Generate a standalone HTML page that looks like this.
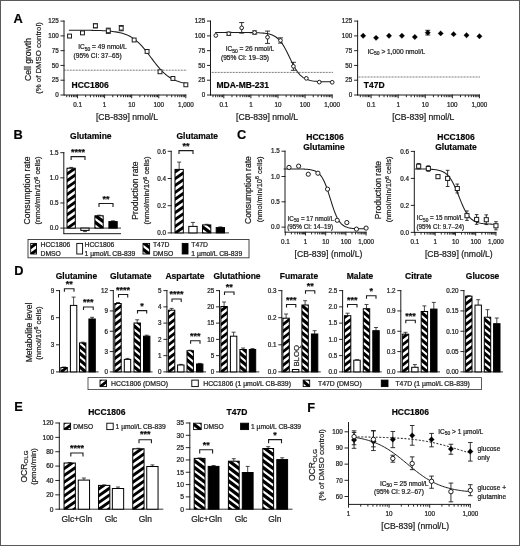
<!DOCTYPE html>
<html lang="en">
<head>
<meta charset="utf-8">
<title>Figure</title>
<style>
html,body{margin:0;padding:0;background:#fff;}
svg{display:block;font-family:"Liberation Sans",Arial,Helvetica,sans-serif;}
text{stroke:#1c1c1c;stroke-width:0.22px;}
</style>
</head>
<body>
<svg width="520" height="546" viewBox="0 0 520 546">
<defs>
<filter id="soft" x="0" y="0" width="100%" height="100%" filterUnits="userSpaceOnUse" color-interpolation-filters="sRGB"><feGaussianBlur stdDeviation="0.32"/></filter>
</defs>
<g filter="url(#soft)">
<rect x="0.5" y="0.5" width="519" height="545" fill="#fff" stroke="#5a5a5a" stroke-width="1"/>
<text x="13.6" y="23" font-size="12.8" font-weight="bold" fill="#000">A</text>
<text x="13.6" y="139.2" font-size="12.8" font-weight="bold" fill="#000">B</text>
<text x="237" y="139.2" font-size="12.8" font-weight="bold" fill="#000">C</text>
<text x="14.2" y="274.8" font-size="12.8" font-weight="bold" fill="#000">D</text>
<text x="14.2" y="411" font-size="12.8" font-weight="bold" fill="#000">E</text>
<text x="307.2" y="411.5" font-size="12.8" font-weight="bold" fill="#000">F</text>
<line x1="64" y1="20.6" x2="64" y2="95.5" stroke="#1c1c1c" stroke-width="1.0" stroke-linecap="butt"/>
<line x1="60.5" y1="95" x2="64.5" y2="95" stroke="#1c1c1c" stroke-width="0.95" stroke-linecap="butt"/>
<text x="58.7" y="97.27" font-size="6.3" text-anchor="end" fill="#1c1c1c">0</text>
<line x1="60.5" y1="80.22" x2="64.5" y2="80.22" stroke="#1c1c1c" stroke-width="0.95" stroke-linecap="butt"/>
<text x="58.7" y="82.49" font-size="6.3" text-anchor="end" fill="#1c1c1c">25</text>
<line x1="60.5" y1="65.44" x2="64.5" y2="65.44" stroke="#1c1c1c" stroke-width="0.95" stroke-linecap="butt"/>
<text x="58.7" y="67.71" font-size="6.3" text-anchor="end" fill="#1c1c1c">50</text>
<line x1="60.5" y1="50.66" x2="64.5" y2="50.66" stroke="#1c1c1c" stroke-width="0.95" stroke-linecap="butt"/>
<text x="58.7" y="52.93" font-size="6.3" text-anchor="end" fill="#1c1c1c">75</text>
<line x1="60.5" y1="35.88" x2="64.5" y2="35.88" stroke="#1c1c1c" stroke-width="0.95" stroke-linecap="butt"/>
<text x="58.7" y="38.15" font-size="6.3" text-anchor="end" fill="#1c1c1c">100</text>
<line x1="60.5" y1="21.1" x2="64.5" y2="21.1" stroke="#1c1c1c" stroke-width="0.95" stroke-linecap="butt"/>
<text x="58.7" y="23.37" font-size="6.3" text-anchor="end" fill="#1c1c1c">125</text>
<line x1="64" y1="95" x2="186.29" y2="95" stroke="#1c1c1c" stroke-width="1.0" stroke-linecap="butt"/>
<line x1="66.74" y1="95" x2="66.74" y2="97.2" stroke="#1c1c1c" stroke-width="0.95" stroke-linecap="butt"/>
<line x1="69.37" y1="95" x2="69.37" y2="97.2" stroke="#1c1c1c" stroke-width="0.95" stroke-linecap="butt"/>
<line x1="71.51" y1="95" x2="71.51" y2="97.2" stroke="#1c1c1c" stroke-width="0.95" stroke-linecap="butt"/>
<line x1="73.33" y1="95" x2="73.33" y2="97.2" stroke="#1c1c1c" stroke-width="0.95" stroke-linecap="butt"/>
<line x1="74.9" y1="95" x2="74.9" y2="97.2" stroke="#1c1c1c" stroke-width="0.95" stroke-linecap="butt"/>
<line x1="76.28" y1="95" x2="76.28" y2="97.2" stroke="#1c1c1c" stroke-width="0.95" stroke-linecap="butt"/>
<line x1="77.52" y1="94.55" x2="77.52" y2="98.3" stroke="#1c1c1c" stroke-width="0.95" stroke-linecap="butt"/>
<line x1="85.67" y1="95" x2="85.67" y2="97.2" stroke="#1c1c1c" stroke-width="0.95" stroke-linecap="butt"/>
<line x1="90.44" y1="95" x2="90.44" y2="97.2" stroke="#1c1c1c" stroke-width="0.95" stroke-linecap="butt"/>
<line x1="93.82" y1="95" x2="93.82" y2="97.2" stroke="#1c1c1c" stroke-width="0.95" stroke-linecap="butt"/>
<line x1="96.45" y1="95" x2="96.45" y2="97.2" stroke="#1c1c1c" stroke-width="0.95" stroke-linecap="butt"/>
<line x1="98.59" y1="95" x2="98.59" y2="97.2" stroke="#1c1c1c" stroke-width="0.95" stroke-linecap="butt"/>
<line x1="100.41" y1="95" x2="100.41" y2="97.2" stroke="#1c1c1c" stroke-width="0.95" stroke-linecap="butt"/>
<line x1="101.98" y1="95" x2="101.98" y2="97.2" stroke="#1c1c1c" stroke-width="0.95" stroke-linecap="butt"/>
<line x1="103.36" y1="95" x2="103.36" y2="97.2" stroke="#1c1c1c" stroke-width="0.95" stroke-linecap="butt"/>
<line x1="104.6" y1="94.55" x2="104.6" y2="98.3" stroke="#1c1c1c" stroke-width="0.95" stroke-linecap="butt"/>
<line x1="112.75" y1="95" x2="112.75" y2="97.2" stroke="#1c1c1c" stroke-width="0.95" stroke-linecap="butt"/>
<line x1="117.52" y1="95" x2="117.52" y2="97.2" stroke="#1c1c1c" stroke-width="0.95" stroke-linecap="butt"/>
<line x1="120.9" y1="95" x2="120.9" y2="97.2" stroke="#1c1c1c" stroke-width="0.95" stroke-linecap="butt"/>
<line x1="123.53" y1="95" x2="123.53" y2="97.2" stroke="#1c1c1c" stroke-width="0.95" stroke-linecap="butt"/>
<line x1="125.67" y1="95" x2="125.67" y2="97.2" stroke="#1c1c1c" stroke-width="0.95" stroke-linecap="butt"/>
<line x1="127.49" y1="95" x2="127.49" y2="97.2" stroke="#1c1c1c" stroke-width="0.95" stroke-linecap="butt"/>
<line x1="129.06" y1="95" x2="129.06" y2="97.2" stroke="#1c1c1c" stroke-width="0.95" stroke-linecap="butt"/>
<line x1="130.44" y1="95" x2="130.44" y2="97.2" stroke="#1c1c1c" stroke-width="0.95" stroke-linecap="butt"/>
<line x1="131.68" y1="94.55" x2="131.68" y2="98.3" stroke="#1c1c1c" stroke-width="0.95" stroke-linecap="butt"/>
<line x1="139.83" y1="95" x2="139.83" y2="97.2" stroke="#1c1c1c" stroke-width="0.95" stroke-linecap="butt"/>
<line x1="144.6" y1="95" x2="144.6" y2="97.2" stroke="#1c1c1c" stroke-width="0.95" stroke-linecap="butt"/>
<line x1="147.98" y1="95" x2="147.98" y2="97.2" stroke="#1c1c1c" stroke-width="0.95" stroke-linecap="butt"/>
<line x1="150.61" y1="95" x2="150.61" y2="97.2" stroke="#1c1c1c" stroke-width="0.95" stroke-linecap="butt"/>
<line x1="152.75" y1="95" x2="152.75" y2="97.2" stroke="#1c1c1c" stroke-width="0.95" stroke-linecap="butt"/>
<line x1="154.57" y1="95" x2="154.57" y2="97.2" stroke="#1c1c1c" stroke-width="0.95" stroke-linecap="butt"/>
<line x1="156.14" y1="95" x2="156.14" y2="97.2" stroke="#1c1c1c" stroke-width="0.95" stroke-linecap="butt"/>
<line x1="157.52" y1="95" x2="157.52" y2="97.2" stroke="#1c1c1c" stroke-width="0.95" stroke-linecap="butt"/>
<line x1="158.76" y1="94.55" x2="158.76" y2="98.3" stroke="#1c1c1c" stroke-width="0.95" stroke-linecap="butt"/>
<line x1="166.91" y1="95" x2="166.91" y2="97.2" stroke="#1c1c1c" stroke-width="0.95" stroke-linecap="butt"/>
<line x1="171.68" y1="95" x2="171.68" y2="97.2" stroke="#1c1c1c" stroke-width="0.95" stroke-linecap="butt"/>
<line x1="175.06" y1="95" x2="175.06" y2="97.2" stroke="#1c1c1c" stroke-width="0.95" stroke-linecap="butt"/>
<line x1="177.69" y1="95" x2="177.69" y2="97.2" stroke="#1c1c1c" stroke-width="0.95" stroke-linecap="butt"/>
<line x1="179.83" y1="95" x2="179.83" y2="97.2" stroke="#1c1c1c" stroke-width="0.95" stroke-linecap="butt"/>
<line x1="181.65" y1="95" x2="181.65" y2="97.2" stroke="#1c1c1c" stroke-width="0.95" stroke-linecap="butt"/>
<line x1="183.22" y1="95" x2="183.22" y2="97.2" stroke="#1c1c1c" stroke-width="0.95" stroke-linecap="butt"/>
<line x1="184.6" y1="95" x2="184.6" y2="97.2" stroke="#1c1c1c" stroke-width="0.95" stroke-linecap="butt"/>
<line x1="185.84" y1="94.55" x2="185.84" y2="98.3" stroke="#1c1c1c" stroke-width="0.95" stroke-linecap="butt"/>
<text x="77.52" y="107.2" font-size="6.3" text-anchor="middle" fill="#1c1c1c">0.1</text>
<text x="104.6" y="107.2" font-size="6.3" text-anchor="middle" fill="#1c1c1c">1</text>
<text x="131.68" y="107.2" font-size="6.3" text-anchor="middle" fill="#1c1c1c">10</text>
<text x="158.76" y="107.2" font-size="6.3" text-anchor="middle" fill="#1c1c1c">100</text>
<text x="185.84" y="107.2" font-size="6.3" text-anchor="middle" fill="#1c1c1c">1,000</text>
<line x1="64" y1="70.2" x2="186.5" y2="70.2" stroke="#222" stroke-width="0.8" stroke-linecap="butt" stroke-dasharray="0.75 0.75"/>
<path d="M68.85 30.21L70.32 30.22L71.78 30.22L73.24 30.22L74.7 30.23L76.17 30.23L77.63 30.24L79.09 30.24L80.55 30.25L82.02 30.26L83.48 30.27L84.94 30.28L86.4 30.29L87.86 30.31L89.33 30.33L90.79 30.35L92.25 30.37L93.71 30.4L95.18 30.43L96.64 30.46L98.1 30.5L99.56 30.55L101.03 30.6L102.49 30.67L103.95 30.74L105.41 30.82L106.87 30.91L108.34 31.02L109.8 31.15L111.26 31.29L112.72 31.46L114.19 31.65L115.65 31.86L117.11 32.11L118.57 32.39L120.04 32.71L121.5 33.08L122.96 33.5L124.42 33.97L125.88 34.51L127.35 35.11L128.81 35.79L130.27 36.55L131.73 37.4L133.2 38.34L134.66 39.38L136.12 40.53L137.58 41.78L139.05 43.14L140.51 44.61L141.97 46.18L143.43 47.85L144.9 49.6L146.36 51.43L147.82 53.32L149.28 55.25L150.74 57.21L152.21 59.17L153.67 61.12L155.13 63.03L156.59 64.89L158.06 66.68L159.52 68.38L160.98 70L162.44 71.51L163.91 72.92L165.37 74.22L166.83 75.41L168.29 76.5L169.75 77.49L171.22 78.38L172.68 79.18L174.14 79.89L175.6 80.53L177.07 81.09L178.53 81.59L179.99 82.03L181.45 82.42L182.92 82.76L184.38 83.06L185.84 83.33" fill="none" stroke="#1c1c1c" stroke-width="1.05" stroke-linejoin="round"/>
<rect x="67.61" y="34.12" width="3.9" height="3.9" fill="#fff" stroke="#1c1c1c" stroke-width="1.0"/>
<rect x="80.53" y="30.95" width="3.9" height="3.9" fill="#fff" stroke="#1c1c1c" stroke-width="1.0"/>
<line x1="95.4" y1="23.74" x2="95.4" y2="27.85" stroke="#1c1c1c" stroke-width="0.9" stroke-linecap="butt"/>
<line x1="92.9" y1="23.74" x2="97.9" y2="23.74" stroke="#1c1c1c" stroke-width="0.9" stroke-linecap="butt"/>
<line x1="92.9" y1="27.85" x2="97.9" y2="27.85" stroke="#1c1c1c" stroke-width="0.9" stroke-linecap="butt"/>
<rect x="93.45" y="23.84" width="3.9" height="3.9" fill="#fff" stroke="#1c1c1c" stroke-width="1.0"/>
<line x1="108.32" y1="28.14" x2="108.32" y2="33.42" stroke="#1c1c1c" stroke-width="0.9" stroke-linecap="butt"/>
<line x1="105.82" y1="28.14" x2="110.82" y2="28.14" stroke="#1c1c1c" stroke-width="0.9" stroke-linecap="butt"/>
<line x1="105.82" y1="33.42" x2="110.82" y2="33.42" stroke="#1c1c1c" stroke-width="0.9" stroke-linecap="butt"/>
<rect x="106.37" y="28.83" width="3.9" height="3.9" fill="#fff" stroke="#1c1c1c" stroke-width="1.0"/>
<line x1="121.24" y1="25.5" x2="121.24" y2="30.78" stroke="#1c1c1c" stroke-width="0.9" stroke-linecap="butt"/>
<line x1="118.74" y1="25.5" x2="123.74" y2="25.5" stroke="#1c1c1c" stroke-width="0.9" stroke-linecap="butt"/>
<line x1="118.74" y1="30.78" x2="123.74" y2="30.78" stroke="#1c1c1c" stroke-width="0.9" stroke-linecap="butt"/>
<rect x="119.29" y="26.19" width="3.9" height="3.9" fill="#fff" stroke="#1c1c1c" stroke-width="1.0"/>
<rect x="132.21" y="38.05" width="3.9" height="3.9" fill="#fff" stroke="#1c1c1c" stroke-width="1.0"/>
<rect x="145.13" y="49.5" width="3.9" height="3.9" fill="#fff" stroke="#1c1c1c" stroke-width="1.0"/>
<rect x="158.05" y="69.82" width="3.9" height="3.9" fill="#fff" stroke="#1c1c1c" stroke-width="1.0"/>
<rect x="170.97" y="76.51" width="3.9" height="3.9" fill="#fff" stroke="#1c1c1c" stroke-width="1.0"/>
<rect x="183.89" y="82.85" width="3.9" height="3.9" fill="#fff" stroke="#1c1c1c" stroke-width="1.0"/>
<text x="78.2" y="49.4" font-size="6.6" fill="#1c1c1c">IC<tspan font-size="75%" dy="1.2">50</tspan><tspan dy="-1.2"> = 49 nmol/L</tspan></text>
<text x="73.6" y="58.2" font-size="6.6" fill="#1c1c1c">(95% CI: 37–65)</text>
<text x="71.5" y="87.5" font-size="8.5" font-weight="bold" fill="#000">HCC1806</text>
<text x="127" y="119.6" font-size="8.6" text-anchor="middle" fill="#1c1c1c">[CB-839] nmol/L</text>
<text x="31.3" y="59.5" font-size="8.6" text-anchor="middle" transform="rotate(-90 31.3 59.5)" fill="#1c1c1c">Cell growth</text>
<text x="40.6" y="58" font-size="7.75" text-anchor="middle" transform="rotate(-90 40.6 58)" fill="#1c1c1c">(% of DMSO control)</text>
<line x1="210.5" y1="20.6" x2="210.5" y2="95.5" stroke="#1c1c1c" stroke-width="1.0" stroke-linecap="butt"/>
<line x1="207" y1="95" x2="211" y2="95" stroke="#1c1c1c" stroke-width="0.95" stroke-linecap="butt"/>
<text x="205.2" y="97.27" font-size="6.3" text-anchor="end" fill="#1c1c1c">0</text>
<line x1="207" y1="80.22" x2="211" y2="80.22" stroke="#1c1c1c" stroke-width="0.95" stroke-linecap="butt"/>
<text x="205.2" y="82.49" font-size="6.3" text-anchor="end" fill="#1c1c1c">25</text>
<line x1="207" y1="65.44" x2="211" y2="65.44" stroke="#1c1c1c" stroke-width="0.95" stroke-linecap="butt"/>
<text x="205.2" y="67.71" font-size="6.3" text-anchor="end" fill="#1c1c1c">50</text>
<line x1="207" y1="50.66" x2="211" y2="50.66" stroke="#1c1c1c" stroke-width="0.95" stroke-linecap="butt"/>
<text x="205.2" y="52.93" font-size="6.3" text-anchor="end" fill="#1c1c1c">75</text>
<line x1="207" y1="35.88" x2="211" y2="35.88" stroke="#1c1c1c" stroke-width="0.95" stroke-linecap="butt"/>
<text x="205.2" y="38.15" font-size="6.3" text-anchor="end" fill="#1c1c1c">100</text>
<line x1="207" y1="21.1" x2="211" y2="21.1" stroke="#1c1c1c" stroke-width="0.95" stroke-linecap="butt"/>
<text x="205.2" y="23.37" font-size="6.3" text-anchor="end" fill="#1c1c1c">125</text>
<line x1="210.5" y1="95" x2="332.65" y2="95" stroke="#1c1c1c" stroke-width="1.0" stroke-linecap="butt"/>
<line x1="213.02" y1="95" x2="213.02" y2="97.2" stroke="#1c1c1c" stroke-width="0.95" stroke-linecap="butt"/>
<line x1="215.64" y1="95" x2="215.64" y2="97.2" stroke="#1c1c1c" stroke-width="0.95" stroke-linecap="butt"/>
<line x1="217.79" y1="95" x2="217.79" y2="97.2" stroke="#1c1c1c" stroke-width="0.95" stroke-linecap="butt"/>
<line x1="219.6" y1="95" x2="219.6" y2="97.2" stroke="#1c1c1c" stroke-width="0.95" stroke-linecap="butt"/>
<line x1="221.17" y1="95" x2="221.17" y2="97.2" stroke="#1c1c1c" stroke-width="0.95" stroke-linecap="butt"/>
<line x1="222.56" y1="95" x2="222.56" y2="97.2" stroke="#1c1c1c" stroke-width="0.95" stroke-linecap="butt"/>
<line x1="223.8" y1="94.55" x2="223.8" y2="98.3" stroke="#1c1c1c" stroke-width="0.95" stroke-linecap="butt"/>
<line x1="231.96" y1="95" x2="231.96" y2="97.2" stroke="#1c1c1c" stroke-width="0.95" stroke-linecap="butt"/>
<line x1="236.73" y1="95" x2="236.73" y2="97.2" stroke="#1c1c1c" stroke-width="0.95" stroke-linecap="butt"/>
<line x1="240.12" y1="95" x2="240.12" y2="97.2" stroke="#1c1c1c" stroke-width="0.95" stroke-linecap="butt"/>
<line x1="242.74" y1="95" x2="242.74" y2="97.2" stroke="#1c1c1c" stroke-width="0.95" stroke-linecap="butt"/>
<line x1="244.89" y1="95" x2="244.89" y2="97.2" stroke="#1c1c1c" stroke-width="0.95" stroke-linecap="butt"/>
<line x1="246.7" y1="95" x2="246.7" y2="97.2" stroke="#1c1c1c" stroke-width="0.95" stroke-linecap="butt"/>
<line x1="248.27" y1="95" x2="248.27" y2="97.2" stroke="#1c1c1c" stroke-width="0.95" stroke-linecap="butt"/>
<line x1="249.66" y1="95" x2="249.66" y2="97.2" stroke="#1c1c1c" stroke-width="0.95" stroke-linecap="butt"/>
<line x1="250.9" y1="94.55" x2="250.9" y2="98.3" stroke="#1c1c1c" stroke-width="0.95" stroke-linecap="butt"/>
<line x1="259.06" y1="95" x2="259.06" y2="97.2" stroke="#1c1c1c" stroke-width="0.95" stroke-linecap="butt"/>
<line x1="263.83" y1="95" x2="263.83" y2="97.2" stroke="#1c1c1c" stroke-width="0.95" stroke-linecap="butt"/>
<line x1="267.22" y1="95" x2="267.22" y2="97.2" stroke="#1c1c1c" stroke-width="0.95" stroke-linecap="butt"/>
<line x1="269.84" y1="95" x2="269.84" y2="97.2" stroke="#1c1c1c" stroke-width="0.95" stroke-linecap="butt"/>
<line x1="271.99" y1="95" x2="271.99" y2="97.2" stroke="#1c1c1c" stroke-width="0.95" stroke-linecap="butt"/>
<line x1="273.8" y1="95" x2="273.8" y2="97.2" stroke="#1c1c1c" stroke-width="0.95" stroke-linecap="butt"/>
<line x1="275.37" y1="95" x2="275.37" y2="97.2" stroke="#1c1c1c" stroke-width="0.95" stroke-linecap="butt"/>
<line x1="276.76" y1="95" x2="276.76" y2="97.2" stroke="#1c1c1c" stroke-width="0.95" stroke-linecap="butt"/>
<line x1="278" y1="94.55" x2="278" y2="98.3" stroke="#1c1c1c" stroke-width="0.95" stroke-linecap="butt"/>
<line x1="286.16" y1="95" x2="286.16" y2="97.2" stroke="#1c1c1c" stroke-width="0.95" stroke-linecap="butt"/>
<line x1="290.93" y1="95" x2="290.93" y2="97.2" stroke="#1c1c1c" stroke-width="0.95" stroke-linecap="butt"/>
<line x1="294.32" y1="95" x2="294.32" y2="97.2" stroke="#1c1c1c" stroke-width="0.95" stroke-linecap="butt"/>
<line x1="296.94" y1="95" x2="296.94" y2="97.2" stroke="#1c1c1c" stroke-width="0.95" stroke-linecap="butt"/>
<line x1="299.09" y1="95" x2="299.09" y2="97.2" stroke="#1c1c1c" stroke-width="0.95" stroke-linecap="butt"/>
<line x1="300.9" y1="95" x2="300.9" y2="97.2" stroke="#1c1c1c" stroke-width="0.95" stroke-linecap="butt"/>
<line x1="302.47" y1="95" x2="302.47" y2="97.2" stroke="#1c1c1c" stroke-width="0.95" stroke-linecap="butt"/>
<line x1="303.86" y1="95" x2="303.86" y2="97.2" stroke="#1c1c1c" stroke-width="0.95" stroke-linecap="butt"/>
<line x1="305.1" y1="94.55" x2="305.1" y2="98.3" stroke="#1c1c1c" stroke-width="0.95" stroke-linecap="butt"/>
<line x1="313.26" y1="95" x2="313.26" y2="97.2" stroke="#1c1c1c" stroke-width="0.95" stroke-linecap="butt"/>
<line x1="318.03" y1="95" x2="318.03" y2="97.2" stroke="#1c1c1c" stroke-width="0.95" stroke-linecap="butt"/>
<line x1="321.42" y1="95" x2="321.42" y2="97.2" stroke="#1c1c1c" stroke-width="0.95" stroke-linecap="butt"/>
<line x1="324.04" y1="95" x2="324.04" y2="97.2" stroke="#1c1c1c" stroke-width="0.95" stroke-linecap="butt"/>
<line x1="326.19" y1="95" x2="326.19" y2="97.2" stroke="#1c1c1c" stroke-width="0.95" stroke-linecap="butt"/>
<line x1="328" y1="95" x2="328" y2="97.2" stroke="#1c1c1c" stroke-width="0.95" stroke-linecap="butt"/>
<line x1="329.57" y1="95" x2="329.57" y2="97.2" stroke="#1c1c1c" stroke-width="0.95" stroke-linecap="butt"/>
<line x1="330.96" y1="95" x2="330.96" y2="97.2" stroke="#1c1c1c" stroke-width="0.95" stroke-linecap="butt"/>
<line x1="332.2" y1="94.55" x2="332.2" y2="98.3" stroke="#1c1c1c" stroke-width="0.95" stroke-linecap="butt"/>
<text x="223.8" y="107.2" font-size="6.3" text-anchor="middle" fill="#1c1c1c">0.1</text>
<text x="250.9" y="107.2" font-size="6.3" text-anchor="middle" fill="#1c1c1c">1</text>
<text x="278" y="107.2" font-size="6.3" text-anchor="middle" fill="#1c1c1c">10</text>
<text x="305.1" y="107.2" font-size="6.3" text-anchor="middle" fill="#1c1c1c">100</text>
<text x="332.2" y="107.2" font-size="6.3" text-anchor="middle" fill="#1c1c1c">1,000</text>
<line x1="210.5" y1="72.4" x2="333" y2="72.4" stroke="#222" stroke-width="0.8" stroke-linecap="butt" stroke-dasharray="0.75 0.75"/>
<path d="M215.13 32.54L216.59 32.54L218.05 32.54L219.52 32.54L220.98 32.54L222.44 32.54L223.91 32.54L225.37 32.54L226.84 32.55L228.3 32.55L229.76 32.55L231.23 32.55L232.69 32.55L234.15 32.55L235.62 32.55L237.08 32.55L238.54 32.55L240.01 32.56L241.47 32.56L242.93 32.56L244.4 32.57L245.86 32.57L247.32 32.58L248.79 32.59L250.25 32.61L251.71 32.62L253.18 32.65L254.64 32.68L256.1 32.71L257.57 32.76L259.03 32.82L260.49 32.9L261.96 33L263.42 33.13L264.88 33.29L266.35 33.49L267.81 33.76L269.27 34.09L270.74 34.51L272.2 35.03L273.66 35.69L275.13 36.51L276.59 37.51L278.05 38.74L279.52 40.22L280.98 41.97L282.44 44.02L283.91 46.35L285.37 48.95L286.83 51.77L288.3 54.76L289.76 57.82L291.22 60.86L292.69 63.79L294.15 66.53L295.62 69.03L297.08 71.25L298.54 73.17L300.01 74.81L301.47 76.19L302.93 77.32L304.4 78.25L305.86 79L307.32 79.6L308.79 80.08L310.25 80.47L311.71 80.77L313.18 81.01L314.64 81.19L316.1 81.34L317.57 81.46L319.03 81.55L320.49 81.62L321.96 81.67L323.42 81.72L324.88 81.75L326.35 81.78L327.81 81.8L329.27 81.81L330.74 81.82L332.2 81.83" fill="none" stroke="#1c1c1c" stroke-width="1.05" stroke-linejoin="round"/>
<circle cx="215.83" cy="35.48" r="1.85" fill="#fff" stroke="#1c1c1c" stroke-width="1.0"/>
<line x1="228.76" y1="32.07" x2="228.76" y2="35.36" stroke="#1c1c1c" stroke-width="0.9" stroke-linecap="butt"/>
<line x1="226.26" y1="32.07" x2="231.26" y2="32.07" stroke="#1c1c1c" stroke-width="0.9" stroke-linecap="butt"/>
<line x1="226.26" y1="35.36" x2="231.26" y2="35.36" stroke="#1c1c1c" stroke-width="0.9" stroke-linecap="butt"/>
<circle cx="228.76" cy="33.72" r="1.85" fill="#fff" stroke="#1c1c1c" stroke-width="1.0"/>
<line x1="241.69" y1="22.56" x2="241.69" y2="33.13" stroke="#1c1c1c" stroke-width="0.9" stroke-linecap="butt"/>
<line x1="239.19" y1="22.56" x2="244.19" y2="22.56" stroke="#1c1c1c" stroke-width="0.9" stroke-linecap="butt"/>
<line x1="239.19" y1="33.13" x2="244.19" y2="33.13" stroke="#1c1c1c" stroke-width="0.9" stroke-linecap="butt"/>
<circle cx="241.69" cy="27.85" r="1.85" fill="#fff" stroke="#1c1c1c" stroke-width="1.0"/>
<line x1="254.62" y1="30.9" x2="254.62" y2="34.19" stroke="#1c1c1c" stroke-width="0.9" stroke-linecap="butt"/>
<line x1="252.12" y1="30.9" x2="257.12" y2="30.9" stroke="#1c1c1c" stroke-width="0.9" stroke-linecap="butt"/>
<line x1="252.12" y1="34.19" x2="257.12" y2="34.19" stroke="#1c1c1c" stroke-width="0.9" stroke-linecap="butt"/>
<circle cx="254.62" cy="32.54" r="1.85" fill="#fff" stroke="#1c1c1c" stroke-width="1.0"/>
<line x1="267.55" y1="31.08" x2="267.55" y2="43.41" stroke="#1c1c1c" stroke-width="0.9" stroke-linecap="butt"/>
<line x1="265.05" y1="31.08" x2="270.05" y2="31.08" stroke="#1c1c1c" stroke-width="0.9" stroke-linecap="butt"/>
<line x1="265.05" y1="43.41" x2="270.05" y2="43.41" stroke="#1c1c1c" stroke-width="0.9" stroke-linecap="butt"/>
<circle cx="267.55" cy="37.24" r="1.85" fill="#fff" stroke="#1c1c1c" stroke-width="1.0"/>
<line x1="280.48" y1="37.83" x2="280.48" y2="43.11" stroke="#1c1c1c" stroke-width="0.9" stroke-linecap="butt"/>
<line x1="277.98" y1="37.83" x2="282.98" y2="37.83" stroke="#1c1c1c" stroke-width="0.9" stroke-linecap="butt"/>
<line x1="277.98" y1="43.11" x2="282.98" y2="43.11" stroke="#1c1c1c" stroke-width="0.9" stroke-linecap="butt"/>
<circle cx="280.48" cy="40.47" r="1.85" fill="#fff" stroke="#1c1c1c" stroke-width="1.0"/>
<line x1="293.41" y1="62.32" x2="293.41" y2="70.3" stroke="#1c1c1c" stroke-width="0.9" stroke-linecap="butt"/>
<line x1="290.91" y1="62.32" x2="295.91" y2="62.32" stroke="#1c1c1c" stroke-width="0.9" stroke-linecap="butt"/>
<line x1="290.91" y1="70.3" x2="295.91" y2="70.3" stroke="#1c1c1c" stroke-width="0.9" stroke-linecap="butt"/>
<circle cx="293.41" cy="66.31" r="1.85" fill="#fff" stroke="#1c1c1c" stroke-width="1.0"/>
<circle cx="306.34" cy="78.35" r="1.85" fill="#fff" stroke="#1c1c1c" stroke-width="1.0"/>
<circle cx="319.27" cy="82.1" r="1.85" fill="#fff" stroke="#1c1c1c" stroke-width="1.0"/>
<circle cx="332.2" cy="82.28" r="1.85" fill="#fff" stroke="#1c1c1c" stroke-width="1.0"/>
<text x="225.7" y="51.4" font-size="6.6" fill="#1c1c1c">IC<tspan font-size="75%" dy="1.2">50</tspan><tspan dy="-1.2"> = 26 nmol/L</tspan></text>
<text x="221" y="60.2" font-size="6.6" fill="#1c1c1c">(95% CI: 19–35)</text>
<text x="216.5" y="87.6" font-size="8.5" font-weight="bold" fill="#000">MDA-MB-231</text>
<text x="267.1" y="119.6" font-size="8.6" text-anchor="middle" fill="#1c1c1c">[CB-839] nmol/L</text>
<line x1="357.6" y1="20.6" x2="357.6" y2="95.5" stroke="#1c1c1c" stroke-width="1.0" stroke-linecap="butt"/>
<line x1="354.1" y1="95" x2="358.1" y2="95" stroke="#1c1c1c" stroke-width="0.95" stroke-linecap="butt"/>
<text x="352.3" y="97.27" font-size="6.3" text-anchor="end" fill="#1c1c1c">0</text>
<line x1="354.1" y1="80.22" x2="358.1" y2="80.22" stroke="#1c1c1c" stroke-width="0.95" stroke-linecap="butt"/>
<text x="352.3" y="82.49" font-size="6.3" text-anchor="end" fill="#1c1c1c">25</text>
<line x1="354.1" y1="65.44" x2="358.1" y2="65.44" stroke="#1c1c1c" stroke-width="0.95" stroke-linecap="butt"/>
<text x="352.3" y="67.71" font-size="6.3" text-anchor="end" fill="#1c1c1c">50</text>
<line x1="354.1" y1="50.66" x2="358.1" y2="50.66" stroke="#1c1c1c" stroke-width="0.95" stroke-linecap="butt"/>
<text x="352.3" y="52.93" font-size="6.3" text-anchor="end" fill="#1c1c1c">75</text>
<line x1="354.1" y1="35.88" x2="358.1" y2="35.88" stroke="#1c1c1c" stroke-width="0.95" stroke-linecap="butt"/>
<text x="352.3" y="38.15" font-size="6.3" text-anchor="end" fill="#1c1c1c">100</text>
<line x1="354.1" y1="21.1" x2="358.1" y2="21.1" stroke="#1c1c1c" stroke-width="0.95" stroke-linecap="butt"/>
<text x="352.3" y="23.37" font-size="6.3" text-anchor="end" fill="#1c1c1c">125</text>
<line x1="357.6" y1="95" x2="479.89" y2="95" stroke="#1c1c1c" stroke-width="1.0" stroke-linecap="butt"/>
<line x1="360.34" y1="95" x2="360.34" y2="97.2" stroke="#1c1c1c" stroke-width="0.95" stroke-linecap="butt"/>
<line x1="362.97" y1="95" x2="362.97" y2="97.2" stroke="#1c1c1c" stroke-width="0.95" stroke-linecap="butt"/>
<line x1="365.11" y1="95" x2="365.11" y2="97.2" stroke="#1c1c1c" stroke-width="0.95" stroke-linecap="butt"/>
<line x1="366.93" y1="95" x2="366.93" y2="97.2" stroke="#1c1c1c" stroke-width="0.95" stroke-linecap="butt"/>
<line x1="368.5" y1="95" x2="368.5" y2="97.2" stroke="#1c1c1c" stroke-width="0.95" stroke-linecap="butt"/>
<line x1="369.88" y1="95" x2="369.88" y2="97.2" stroke="#1c1c1c" stroke-width="0.95" stroke-linecap="butt"/>
<line x1="371.12" y1="94.55" x2="371.12" y2="98.3" stroke="#1c1c1c" stroke-width="0.95" stroke-linecap="butt"/>
<line x1="379.27" y1="95" x2="379.27" y2="97.2" stroke="#1c1c1c" stroke-width="0.95" stroke-linecap="butt"/>
<line x1="384.04" y1="95" x2="384.04" y2="97.2" stroke="#1c1c1c" stroke-width="0.95" stroke-linecap="butt"/>
<line x1="387.42" y1="95" x2="387.42" y2="97.2" stroke="#1c1c1c" stroke-width="0.95" stroke-linecap="butt"/>
<line x1="390.05" y1="95" x2="390.05" y2="97.2" stroke="#1c1c1c" stroke-width="0.95" stroke-linecap="butt"/>
<line x1="392.19" y1="95" x2="392.19" y2="97.2" stroke="#1c1c1c" stroke-width="0.95" stroke-linecap="butt"/>
<line x1="394.01" y1="95" x2="394.01" y2="97.2" stroke="#1c1c1c" stroke-width="0.95" stroke-linecap="butt"/>
<line x1="395.58" y1="95" x2="395.58" y2="97.2" stroke="#1c1c1c" stroke-width="0.95" stroke-linecap="butt"/>
<line x1="396.96" y1="95" x2="396.96" y2="97.2" stroke="#1c1c1c" stroke-width="0.95" stroke-linecap="butt"/>
<line x1="398.2" y1="94.55" x2="398.2" y2="98.3" stroke="#1c1c1c" stroke-width="0.95" stroke-linecap="butt"/>
<line x1="406.35" y1="95" x2="406.35" y2="97.2" stroke="#1c1c1c" stroke-width="0.95" stroke-linecap="butt"/>
<line x1="411.12" y1="95" x2="411.12" y2="97.2" stroke="#1c1c1c" stroke-width="0.95" stroke-linecap="butt"/>
<line x1="414.5" y1="95" x2="414.5" y2="97.2" stroke="#1c1c1c" stroke-width="0.95" stroke-linecap="butt"/>
<line x1="417.13" y1="95" x2="417.13" y2="97.2" stroke="#1c1c1c" stroke-width="0.95" stroke-linecap="butt"/>
<line x1="419.27" y1="95" x2="419.27" y2="97.2" stroke="#1c1c1c" stroke-width="0.95" stroke-linecap="butt"/>
<line x1="421.09" y1="95" x2="421.09" y2="97.2" stroke="#1c1c1c" stroke-width="0.95" stroke-linecap="butt"/>
<line x1="422.66" y1="95" x2="422.66" y2="97.2" stroke="#1c1c1c" stroke-width="0.95" stroke-linecap="butt"/>
<line x1="424.04" y1="95" x2="424.04" y2="97.2" stroke="#1c1c1c" stroke-width="0.95" stroke-linecap="butt"/>
<line x1="425.28" y1="94.55" x2="425.28" y2="98.3" stroke="#1c1c1c" stroke-width="0.95" stroke-linecap="butt"/>
<line x1="433.43" y1="95" x2="433.43" y2="97.2" stroke="#1c1c1c" stroke-width="0.95" stroke-linecap="butt"/>
<line x1="438.2" y1="95" x2="438.2" y2="97.2" stroke="#1c1c1c" stroke-width="0.95" stroke-linecap="butt"/>
<line x1="441.58" y1="95" x2="441.58" y2="97.2" stroke="#1c1c1c" stroke-width="0.95" stroke-linecap="butt"/>
<line x1="444.21" y1="95" x2="444.21" y2="97.2" stroke="#1c1c1c" stroke-width="0.95" stroke-linecap="butt"/>
<line x1="446.35" y1="95" x2="446.35" y2="97.2" stroke="#1c1c1c" stroke-width="0.95" stroke-linecap="butt"/>
<line x1="448.17" y1="95" x2="448.17" y2="97.2" stroke="#1c1c1c" stroke-width="0.95" stroke-linecap="butt"/>
<line x1="449.74" y1="95" x2="449.74" y2="97.2" stroke="#1c1c1c" stroke-width="0.95" stroke-linecap="butt"/>
<line x1="451.12" y1="95" x2="451.12" y2="97.2" stroke="#1c1c1c" stroke-width="0.95" stroke-linecap="butt"/>
<line x1="452.36" y1="94.55" x2="452.36" y2="98.3" stroke="#1c1c1c" stroke-width="0.95" stroke-linecap="butt"/>
<line x1="460.51" y1="95" x2="460.51" y2="97.2" stroke="#1c1c1c" stroke-width="0.95" stroke-linecap="butt"/>
<line x1="465.28" y1="95" x2="465.28" y2="97.2" stroke="#1c1c1c" stroke-width="0.95" stroke-linecap="butt"/>
<line x1="468.66" y1="95" x2="468.66" y2="97.2" stroke="#1c1c1c" stroke-width="0.95" stroke-linecap="butt"/>
<line x1="471.29" y1="95" x2="471.29" y2="97.2" stroke="#1c1c1c" stroke-width="0.95" stroke-linecap="butt"/>
<line x1="473.43" y1="95" x2="473.43" y2="97.2" stroke="#1c1c1c" stroke-width="0.95" stroke-linecap="butt"/>
<line x1="475.25" y1="95" x2="475.25" y2="97.2" stroke="#1c1c1c" stroke-width="0.95" stroke-linecap="butt"/>
<line x1="476.82" y1="95" x2="476.82" y2="97.2" stroke="#1c1c1c" stroke-width="0.95" stroke-linecap="butt"/>
<line x1="478.2" y1="95" x2="478.2" y2="97.2" stroke="#1c1c1c" stroke-width="0.95" stroke-linecap="butt"/>
<line x1="479.44" y1="94.55" x2="479.44" y2="98.3" stroke="#1c1c1c" stroke-width="0.95" stroke-linecap="butt"/>
<text x="371.12" y="107.2" font-size="6.3" text-anchor="middle" fill="#1c1c1c">0.1</text>
<text x="398.2" y="107.2" font-size="6.3" text-anchor="middle" fill="#1c1c1c">1</text>
<text x="425.28" y="107.2" font-size="6.3" text-anchor="middle" fill="#1c1c1c">10</text>
<text x="452.36" y="107.2" font-size="6.3" text-anchor="middle" fill="#1c1c1c">100</text>
<text x="479.44" y="107.2" font-size="6.3" text-anchor="middle" fill="#1c1c1c">1,000</text>
<line x1="357.6" y1="77" x2="480" y2="77" stroke="#222" stroke-width="0.8" stroke-linecap="butt" stroke-dasharray="0.75 0.75"/>
<path d="M363.16 33.07L365.86 35.77L363.16 38.47L360.46 35.77Z" fill="#000" stroke="#000" stroke-width="0.3"/>
<path d="M376.08 35.13L378.78 37.83L376.08 40.53L373.38 37.83Z" fill="#000" stroke="#000" stroke-width="0.3"/>
<path d="M389 33.07L391.7 35.77L389 38.47L386.3 35.77Z" fill="#000" stroke="#000" stroke-width="0.3"/>
<path d="M401.92 33.07L404.62 35.77L401.92 38.47L399.22 35.77Z" fill="#000" stroke="#000" stroke-width="0.3"/>
<path d="M414.84 34.25L417.54 36.95L414.84 39.65L412.14 36.95Z" fill="#000" stroke="#000" stroke-width="0.3"/>
<line x1="427.76" y1="30.31" x2="427.76" y2="35.01" stroke="#1c1c1c" stroke-width="0.9" stroke-linecap="butt"/>
<line x1="425.26" y1="30.31" x2="430.26" y2="30.31" stroke="#1c1c1c" stroke-width="0.9" stroke-linecap="butt"/>
<line x1="425.26" y1="35.01" x2="430.26" y2="35.01" stroke="#1c1c1c" stroke-width="0.9" stroke-linecap="butt"/>
<path d="M427.76 29.96L430.46 32.66L427.76 35.36L425.06 32.66Z" fill="#000" stroke="#000" stroke-width="0.3"/>
<path d="M440.68 30.72L443.38 33.42L440.68 36.12L437.98 33.42Z" fill="#000" stroke="#000" stroke-width="0.3"/>
<path d="M453.6 31.43L456.3 34.13L453.6 36.83L450.9 34.13Z" fill="#000" stroke="#000" stroke-width="0.3"/>
<path d="M466.52 32.49L469.22 35.19L466.52 37.89L463.82 35.19Z" fill="#000" stroke="#000" stroke-width="0.3"/>
<path d="M479.44 33.54L482.14 36.24L479.44 38.94L476.74 36.24Z" fill="#000" stroke="#000" stroke-width="0.3"/>
<text x="367.5" y="53.9" font-size="6.6" fill="#1c1c1c">IC<tspan font-size="75%" dy="1.2">50</tspan><tspan dy="-1.2"> &gt; 1,000 nmol/L</tspan></text>
<text x="363.8" y="87.5" font-size="8.5" font-weight="bold" fill="#000">T47D</text>
<text x="423.3" y="119.6" font-size="8.6" text-anchor="middle" fill="#1c1c1c">[CB-839] nmol/L</text>
<line x1="63.8" y1="152.2" x2="63.8" y2="234.2" stroke="#1c1c1c" stroke-width="1.0" stroke-linecap="butt"/>
<line x1="60.3" y1="228.1" x2="64.3" y2="228.1" stroke="#1c1c1c" stroke-width="0.95" stroke-linecap="butt"/>
<text x="58.5" y="230.37" font-size="6.3" text-anchor="end" fill="#1c1c1c">0.0</text>
<line x1="60.3" y1="202.97" x2="64.3" y2="202.97" stroke="#1c1c1c" stroke-width="0.95" stroke-linecap="butt"/>
<text x="58.5" y="205.23" font-size="6.3" text-anchor="end" fill="#1c1c1c">0.5</text>
<line x1="60.3" y1="177.83" x2="64.3" y2="177.83" stroke="#1c1c1c" stroke-width="0.95" stroke-linecap="butt"/>
<text x="58.5" y="180.1" font-size="6.3" text-anchor="end" fill="#1c1c1c">1.0</text>
<line x1="60.3" y1="152.7" x2="64.3" y2="152.7" stroke="#1c1c1c" stroke-width="0.95" stroke-linecap="butt"/>
<text x="58.5" y="154.97" font-size="6.3" text-anchor="end" fill="#1c1c1c">1.5</text>
<line x1="63.8" y1="233.7" x2="121" y2="233.7" stroke="#1c1c1c" stroke-width="1.0" stroke-linecap="butt"/>
<line x1="63.8" y1="228.1" x2="121" y2="228.1" stroke="#1c1c1c" stroke-width="0.9" stroke-linecap="butt"/>
<line x1="71.15" y1="167.4" x2="71.15" y2="168.2" stroke="#1c1c1c" stroke-width="0.8" stroke-linecap="butt"/>
<line x1="69.15" y1="167.4" x2="73.15" y2="167.4" stroke="#1c1c1c" stroke-width="0.8" stroke-linecap="butt"/>
<clipPath id="c1"><rect x="67" y="168.2" width="8.3" height="59.9"/></clipPath>
<rect x="67" y="168.2" width="8.3" height="59.9" fill="#fff"/>
<path d="M66 242.7L76.3 235.49M66 235.9L76.3 228.69M66 229.1L76.3 221.89M66 222.3L76.3 215.09M66 215.5L76.3 208.29M66 208.7L76.3 201.49M66 201.9L76.3 194.69M66 195.1L76.3 187.89M66 188.3L76.3 181.09M66 181.5L76.3 174.29M66 174.7L76.3 167.49M66 167.9L76.3 160.69M66 161.1L76.3 153.89M66 154.3L76.3 147.09" stroke="#000" stroke-width="2.9" fill="none" clip-path="url(#c1)"/>
<rect x="67" y="168.2" width="8.3" height="59.9" fill="none" stroke="#000" stroke-width="1.0"/>
<line x1="84.95" y1="231.6" x2="84.95" y2="230.4" stroke="#1c1c1c" stroke-width="0.8" stroke-linecap="butt"/>
<line x1="82.95" y1="231.6" x2="86.95" y2="231.6" stroke="#1c1c1c" stroke-width="0.8" stroke-linecap="butt"/>
<rect x="80.8" y="228.1" width="8.3" height="2.3" fill="#fff" stroke="#000" stroke-width="1.0"/>
<line x1="99.05" y1="215.2" x2="99.05" y2="215.8" stroke="#1c1c1c" stroke-width="0.8" stroke-linecap="butt"/>
<line x1="97.05" y1="215.2" x2="101.05" y2="215.2" stroke="#1c1c1c" stroke-width="0.8" stroke-linecap="butt"/>
<clipPath id="c2"><rect x="94.9" y="215.8" width="8.3" height="12.3"/></clipPath>
<rect x="94.9" y="215.8" width="8.3" height="12.3" fill="#fff"/>
<path d="M93.9 234.94L104.2 242.7M93.9 228.14L104.2 235.9M93.9 221.34L104.2 229.1M93.9 214.54L104.2 222.3M93.9 207.74L104.2 215.5M93.9 200.94L104.2 208.7M93.9 194.14L104.2 201.9" stroke="#000" stroke-width="3.26" fill="none" clip-path="url(#c2)"/>
<rect x="94.9" y="215.8" width="8.3" height="12.3" fill="none" stroke="#000" stroke-width="1.0"/>
<line x1="113.05" y1="220.8" x2="113.05" y2="221.6" stroke="#1c1c1c" stroke-width="0.8" stroke-linecap="butt"/>
<line x1="111.05" y1="220.8" x2="115.05" y2="220.8" stroke="#1c1c1c" stroke-width="0.8" stroke-linecap="butt"/>
<rect x="108.9" y="221.6" width="8.3" height="6.5" fill="#000" stroke="#000" stroke-width="1.0"/>
<path d="M71.1 160V156.6H85V160" fill="none" stroke="#1c1c1c" stroke-width="1.1" />
<text x="78.05" y="155" font-size="9" text-anchor="middle" font-weight="bold" fill="#000">****</text>
<path d="M99 206.9V203.5H113V206.9" fill="none" stroke="#1c1c1c" stroke-width="1.1" />
<text x="106" y="201.9" font-size="9" text-anchor="middle" font-weight="bold" fill="#000">**</text>
<text x="90.8" y="138.9" font-size="8.5" text-anchor="middle" font-weight="bold" fill="#000">Glutamine</text>
<text x="29.9" y="190.5" font-size="8.6" text-anchor="middle" transform="rotate(-90 29.9 190.5)" fill="#1c1c1c">Consumption rate</text>
<text x="40.3" y="190.5" font-size="7.75" text-anchor="middle" transform="rotate(-90 40.3 190.5)" fill="#1c1c1c">(nmol/min/10<tspan font-size="70%" dy="-2.2">6</tspan><tspan dy="2.2"> cells)</tspan></text>
<line x1="171.2" y1="150.8" x2="171.2" y2="233.4" stroke="#1c1c1c" stroke-width="1.0" stroke-linecap="butt"/>
<line x1="167.7" y1="232.9" x2="171.7" y2="232.9" stroke="#1c1c1c" stroke-width="0.95" stroke-linecap="butt"/>
<text x="165.9" y="235.17" font-size="6.3" text-anchor="end" fill="#1c1c1c">0.0</text>
<line x1="167.7" y1="205.7" x2="171.7" y2="205.7" stroke="#1c1c1c" stroke-width="0.95" stroke-linecap="butt"/>
<text x="165.9" y="207.97" font-size="6.3" text-anchor="end" fill="#1c1c1c">0.2</text>
<line x1="167.7" y1="178.5" x2="171.7" y2="178.5" stroke="#1c1c1c" stroke-width="0.95" stroke-linecap="butt"/>
<text x="165.9" y="180.77" font-size="6.3" text-anchor="end" fill="#1c1c1c">0.4</text>
<line x1="167.7" y1="151.3" x2="171.7" y2="151.3" stroke="#1c1c1c" stroke-width="0.95" stroke-linecap="butt"/>
<text x="165.9" y="153.57" font-size="6.3" text-anchor="end" fill="#1c1c1c">0.6</text>
<line x1="171.2" y1="232.9" x2="229" y2="232.9" stroke="#1c1c1c" stroke-width="0.9" stroke-linecap="butt"/>
<line x1="179.15" y1="162.1" x2="179.15" y2="169.4" stroke="#1c1c1c" stroke-width="0.8" stroke-linecap="butt"/>
<line x1="177.15" y1="162.1" x2="181.15" y2="162.1" stroke="#1c1c1c" stroke-width="0.8" stroke-linecap="butt"/>
<clipPath id="c3"><rect x="175" y="169.4" width="8.3" height="63.5"/></clipPath>
<rect x="175" y="169.4" width="8.3" height="63.5" fill="#fff"/>
<path d="M174 247.5L184.3 240.29M174 240.7L184.3 233.49M174 233.9L184.3 226.69M174 227.1L184.3 219.89M174 220.3L184.3 213.09M174 213.5L184.3 206.29M174 206.7L184.3 199.49M174 199.9L184.3 192.69M174 193.1L184.3 185.89M174 186.3L184.3 179.09M174 179.5L184.3 172.29M174 172.7L184.3 165.49M174 165.9L184.3 158.69M174 159.1L184.3 151.89" stroke="#000" stroke-width="2.9" fill="none" clip-path="url(#c3)"/>
<rect x="175" y="169.4" width="8.3" height="63.5" fill="none" stroke="#000" stroke-width="1.0"/>
<line x1="192.95" y1="222.4" x2="192.95" y2="226.4" stroke="#1c1c1c" stroke-width="0.8" stroke-linecap="butt"/>
<line x1="190.95" y1="222.4" x2="194.95" y2="222.4" stroke="#1c1c1c" stroke-width="0.8" stroke-linecap="butt"/>
<rect x="188.8" y="226.4" width="8.3" height="6.5" fill="#fff" stroke="#000" stroke-width="1.0"/>
<line x1="206.65" y1="224.3" x2="206.65" y2="224.9" stroke="#1c1c1c" stroke-width="0.8" stroke-linecap="butt"/>
<line x1="204.65" y1="224.3" x2="208.65" y2="224.3" stroke="#1c1c1c" stroke-width="0.8" stroke-linecap="butt"/>
<clipPath id="c4"><rect x="202.5" y="224.9" width="8.3" height="8"/></clipPath>
<rect x="202.5" y="224.9" width="8.3" height="8" fill="#fff"/>
<path d="M201.5 239.74L211.8 247.5M201.5 232.94L211.8 240.7M201.5 226.14L211.8 233.9M201.5 219.34L211.8 227.1M201.5 212.54L211.8 220.3M201.5 205.74L211.8 213.5" stroke="#000" stroke-width="3.26" fill="none" clip-path="url(#c4)"/>
<rect x="202.5" y="224.9" width="8.3" height="8" fill="none" stroke="#000" stroke-width="1.0"/>
<line x1="220.35" y1="226.9" x2="220.35" y2="227.6" stroke="#1c1c1c" stroke-width="0.8" stroke-linecap="butt"/>
<line x1="218.35" y1="226.9" x2="222.35" y2="226.9" stroke="#1c1c1c" stroke-width="0.8" stroke-linecap="butt"/>
<rect x="216.2" y="227.6" width="8.3" height="5.3" fill="#000" stroke="#000" stroke-width="1.0"/>
<path d="M179 154V150.6H193V154" fill="none" stroke="#1c1c1c" stroke-width="1.1" />
<text x="186" y="149" font-size="9" text-anchor="middle" font-weight="bold" fill="#000">**</text>
<text x="197.3" y="138.9" font-size="8.5" text-anchor="middle" font-weight="bold" fill="#000">Glutamate</text>
<text x="138.3" y="190.5" font-size="8.6" text-anchor="middle" transform="rotate(-90 138.3 190.5)" fill="#1c1c1c">Production rate</text>
<text x="148.8" y="190.5" font-size="7.75" text-anchor="middle" transform="rotate(-90 148.8 190.5)" fill="#1c1c1c">(nmol/min/10<tspan font-size="70%" dy="-2.2">6</tspan><tspan dy="2.2"> cells)</tspan></text>
<rect x="28" y="239.5" width="221" height="18.3" fill="#fff" stroke="#333" stroke-width="0.9"/>
<clipPath id="c5"><rect x="30.7" y="243.4" width="5.8" height="10.6"/></clipPath>
<rect x="30.7" y="243.4" width="5.8" height="10.6" fill="#fff"/>
<path d="M29.7 268.6L37.5 263.14M29.7 261.8L37.5 256.34M29.7 255L37.5 249.54M29.7 248.2L37.5 242.74M29.7 241.4L37.5 235.94M29.7 234.6L37.5 229.14" stroke="#000" stroke-width="2.9" fill="none" clip-path="url(#c5)"/>
<rect x="30.7" y="243.4" width="5.8" height="10.6" fill="none" stroke="#000" stroke-width="0.9"/>
<text x="40.5" y="246.7" font-size="6.8" fill="#1c1c1c">HCC1806</text>
<text x="40.5" y="255.5" font-size="6.8" fill="#1c1c1c">DMSO</text>
<rect x="76.8" y="243.4" width="5.8" height="10.6" fill="#fff" stroke="#000" stroke-width="0.9"/>
<text x="84.5" y="246.7" font-size="6.8" fill="#1c1c1c">HCC1806</text>
<text x="84.5" y="255.5" font-size="6.8" fill="#1c1c1c">1 µmol/L CB-839</text>
<clipPath id="c6"><rect x="143" y="243.4" width="6.6" height="10.6"/></clipPath>
<rect x="143" y="243.4" width="6.6" height="10.6" fill="#fff"/>
<path d="M142 262.12L150.6 268.6M142 255.32L150.6 261.8M142 248.52L150.6 255M142 241.72L150.6 248.2M142 234.92L150.6 241.4M142 228.12L150.6 234.6" stroke="#000" stroke-width="3.26" fill="none" clip-path="url(#c6)"/>
<rect x="143" y="243.4" width="6.6" height="10.6" fill="none" stroke="#000" stroke-width="0.9"/>
<text x="152.9" y="246.7" font-size="6.8" fill="#1c1c1c">T47D</text>
<text x="152.9" y="255.5" font-size="6.8" fill="#1c1c1c">DMSO</text>
<rect x="182.2" y="243.4" width="5.8" height="10.6" fill="#000" stroke="#000" stroke-width="0.9"/>
<text x="191.3" y="246.7" font-size="6.8" fill="#1c1c1c">T47D</text>
<text x="191.3" y="255.5" font-size="6.8" fill="#1c1c1c">1 µmol/L CB-839</text>
<line x1="285" y1="150.7" x2="285" y2="232.7" stroke="#1c1c1c" stroke-width="1.0" stroke-linecap="butt"/>
<line x1="281.5" y1="227.1" x2="285.5" y2="227.1" stroke="#1c1c1c" stroke-width="0.95" stroke-linecap="butt"/>
<text x="279.7" y="229.37" font-size="6.3" text-anchor="end" fill="#1c1c1c">0.0</text>
<line x1="281.5" y1="201.8" x2="285.5" y2="201.8" stroke="#1c1c1c" stroke-width="0.95" stroke-linecap="butt"/>
<text x="279.7" y="204.07" font-size="6.3" text-anchor="end" fill="#1c1c1c">0.5</text>
<line x1="281.5" y1="176.5" x2="285.5" y2="176.5" stroke="#1c1c1c" stroke-width="0.95" stroke-linecap="butt"/>
<text x="279.7" y="178.77" font-size="6.3" text-anchor="end" fill="#1c1c1c">1.0</text>
<line x1="281.5" y1="151.2" x2="285.5" y2="151.2" stroke="#1c1c1c" stroke-width="0.95" stroke-linecap="butt"/>
<text x="279.7" y="153.47" font-size="6.3" text-anchor="end" fill="#1c1c1c">1.5</text>
<line x1="285" y1="232.2" x2="366.55" y2="232.2" stroke="#1c1c1c" stroke-width="1.0" stroke-linecap="butt"/>
<line x1="285.3" y1="231.75" x2="285.3" y2="235.5" stroke="#1c1c1c" stroke-width="0.95" stroke-linecap="butt"/>
<line x1="291.38" y1="232.2" x2="291.38" y2="234.4" stroke="#1c1c1c" stroke-width="0.95" stroke-linecap="butt"/>
<line x1="294.94" y1="232.2" x2="294.94" y2="234.4" stroke="#1c1c1c" stroke-width="0.95" stroke-linecap="butt"/>
<line x1="297.46" y1="232.2" x2="297.46" y2="234.4" stroke="#1c1c1c" stroke-width="0.95" stroke-linecap="butt"/>
<line x1="299.42" y1="232.2" x2="299.42" y2="234.4" stroke="#1c1c1c" stroke-width="0.95" stroke-linecap="butt"/>
<line x1="301.02" y1="232.2" x2="301.02" y2="234.4" stroke="#1c1c1c" stroke-width="0.95" stroke-linecap="butt"/>
<line x1="302.37" y1="232.2" x2="302.37" y2="234.4" stroke="#1c1c1c" stroke-width="0.95" stroke-linecap="butt"/>
<line x1="303.54" y1="232.2" x2="303.54" y2="234.4" stroke="#1c1c1c" stroke-width="0.95" stroke-linecap="butt"/>
<line x1="304.58" y1="232.2" x2="304.58" y2="234.4" stroke="#1c1c1c" stroke-width="0.95" stroke-linecap="butt"/>
<line x1="305.5" y1="231.75" x2="305.5" y2="235.5" stroke="#1c1c1c" stroke-width="0.95" stroke-linecap="butt"/>
<line x1="311.58" y1="232.2" x2="311.58" y2="234.4" stroke="#1c1c1c" stroke-width="0.95" stroke-linecap="butt"/>
<line x1="315.14" y1="232.2" x2="315.14" y2="234.4" stroke="#1c1c1c" stroke-width="0.95" stroke-linecap="butt"/>
<line x1="317.66" y1="232.2" x2="317.66" y2="234.4" stroke="#1c1c1c" stroke-width="0.95" stroke-linecap="butt"/>
<line x1="319.62" y1="232.2" x2="319.62" y2="234.4" stroke="#1c1c1c" stroke-width="0.95" stroke-linecap="butt"/>
<line x1="321.22" y1="232.2" x2="321.22" y2="234.4" stroke="#1c1c1c" stroke-width="0.95" stroke-linecap="butt"/>
<line x1="322.57" y1="232.2" x2="322.57" y2="234.4" stroke="#1c1c1c" stroke-width="0.95" stroke-linecap="butt"/>
<line x1="323.74" y1="232.2" x2="323.74" y2="234.4" stroke="#1c1c1c" stroke-width="0.95" stroke-linecap="butt"/>
<line x1="324.78" y1="232.2" x2="324.78" y2="234.4" stroke="#1c1c1c" stroke-width="0.95" stroke-linecap="butt"/>
<line x1="325.7" y1="231.75" x2="325.7" y2="235.5" stroke="#1c1c1c" stroke-width="0.95" stroke-linecap="butt"/>
<line x1="331.78" y1="232.2" x2="331.78" y2="234.4" stroke="#1c1c1c" stroke-width="0.95" stroke-linecap="butt"/>
<line x1="335.34" y1="232.2" x2="335.34" y2="234.4" stroke="#1c1c1c" stroke-width="0.95" stroke-linecap="butt"/>
<line x1="337.86" y1="232.2" x2="337.86" y2="234.4" stroke="#1c1c1c" stroke-width="0.95" stroke-linecap="butt"/>
<line x1="339.82" y1="232.2" x2="339.82" y2="234.4" stroke="#1c1c1c" stroke-width="0.95" stroke-linecap="butt"/>
<line x1="341.42" y1="232.2" x2="341.42" y2="234.4" stroke="#1c1c1c" stroke-width="0.95" stroke-linecap="butt"/>
<line x1="342.77" y1="232.2" x2="342.77" y2="234.4" stroke="#1c1c1c" stroke-width="0.95" stroke-linecap="butt"/>
<line x1="343.94" y1="232.2" x2="343.94" y2="234.4" stroke="#1c1c1c" stroke-width="0.95" stroke-linecap="butt"/>
<line x1="344.98" y1="232.2" x2="344.98" y2="234.4" stroke="#1c1c1c" stroke-width="0.95" stroke-linecap="butt"/>
<line x1="345.9" y1="231.75" x2="345.9" y2="235.5" stroke="#1c1c1c" stroke-width="0.95" stroke-linecap="butt"/>
<line x1="351.98" y1="232.2" x2="351.98" y2="234.4" stroke="#1c1c1c" stroke-width="0.95" stroke-linecap="butt"/>
<line x1="355.54" y1="232.2" x2="355.54" y2="234.4" stroke="#1c1c1c" stroke-width="0.95" stroke-linecap="butt"/>
<line x1="358.06" y1="232.2" x2="358.06" y2="234.4" stroke="#1c1c1c" stroke-width="0.95" stroke-linecap="butt"/>
<line x1="360.02" y1="232.2" x2="360.02" y2="234.4" stroke="#1c1c1c" stroke-width="0.95" stroke-linecap="butt"/>
<line x1="361.62" y1="232.2" x2="361.62" y2="234.4" stroke="#1c1c1c" stroke-width="0.95" stroke-linecap="butt"/>
<line x1="362.97" y1="232.2" x2="362.97" y2="234.4" stroke="#1c1c1c" stroke-width="0.95" stroke-linecap="butt"/>
<line x1="364.14" y1="232.2" x2="364.14" y2="234.4" stroke="#1c1c1c" stroke-width="0.95" stroke-linecap="butt"/>
<line x1="365.18" y1="232.2" x2="365.18" y2="234.4" stroke="#1c1c1c" stroke-width="0.95" stroke-linecap="butt"/>
<line x1="366.1" y1="231.75" x2="366.1" y2="235.5" stroke="#1c1c1c" stroke-width="0.95" stroke-linecap="butt"/>
<text x="285.3" y="244.1" font-size="6.3" text-anchor="middle" fill="#1c1c1c">0.1</text>
<text x="305.5" y="244.1" font-size="6.3" text-anchor="middle" fill="#1c1c1c">1</text>
<text x="325.7" y="244.1" font-size="6.3" text-anchor="middle" fill="#1c1c1c">10</text>
<text x="345.9" y="244.1" font-size="6.3" text-anchor="middle" fill="#1c1c1c">100</text>
<text x="366.1" y="244.1" font-size="6.3" text-anchor="middle" fill="#1c1c1c">1,000</text>
<path d="M283.68 168.91L284.71 168.91L285.74 168.91L286.77 168.91L287.8 168.92L288.83 168.92L289.87 168.92L290.9 168.92L291.93 168.92L292.96 168.93L293.99 168.93L295.02 168.94L296.05 168.95L297.08 168.95L298.11 168.97L299.14 168.98L300.17 169L301.2 169.02L302.23 169.05L303.26 169.08L304.29 169.12L305.32 169.17L306.35 169.24L307.38 169.32L308.41 169.42L309.44 169.55L310.47 169.71L311.5 169.9L312.53 170.15L313.56 170.45L314.59 170.82L315.62 171.28L316.65 171.84L317.68 172.53L318.71 173.37L319.74 174.38L320.77 175.59L321.8 177.04L322.83 178.74L323.86 180.71L324.89 182.97L325.92 185.51L326.95 188.32L327.98 191.35L329.01 194.56L330.04 197.88L331.07 201.22L332.1 204.5L333.13 207.65L334.16 210.6L335.19 213.3L336.22 215.74L337.25 217.88L338.28 219.74L339.31 221.34L340.35 222.69L341.38 223.82L342.41 224.76L343.44 225.54L344.47 226.18L345.5 226.69L346.53 227.12L347.56 227.46L348.59 227.74L349.62 227.96L350.65 228.14L351.68 228.28L352.71 228.4L353.74 228.49L354.77 228.57L355.8 228.63L356.83 228.68L357.86 228.72L358.89 228.75L359.92 228.77L360.95 228.79L361.98 228.81L363.01 228.82L364.04 228.83L365.07 228.84L366.1 228.84" fill="none" stroke="#1c1c1c" stroke-width="1.05" stroke-linejoin="round"/>
<circle cx="289" cy="167.39" r="2.1" fill="#fff" stroke="#1c1c1c" stroke-width="1.0"/>
<circle cx="298.64" cy="166.13" r="2.1" fill="#fff" stroke="#1c1c1c" stroke-width="1.0"/>
<circle cx="308.27" cy="174.22" r="2.1" fill="#fff" stroke="#1c1c1c" stroke-width="1.0"/>
<circle cx="317.91" cy="173.21" r="2.1" fill="#fff" stroke="#1c1c1c" stroke-width="1.0"/>
<circle cx="327.55" cy="189.15" r="2.1" fill="#fff" stroke="#1c1c1c" stroke-width="1.0"/>
<circle cx="337.19" cy="220.27" r="2.1" fill="#fff" stroke="#1c1c1c" stroke-width="1.0"/>
<circle cx="346.82" cy="222.55" r="2.1" fill="#fff" stroke="#1c1c1c" stroke-width="1.0"/>
<circle cx="356.46" cy="229.12" r="2.1" fill="#fff" stroke="#1c1c1c" stroke-width="1.0"/>
<circle cx="366.1" cy="228.11" r="2.1" fill="#fff" stroke="#1c1c1c" stroke-width="1.0"/>
<text x="287.6" y="220.8" font-size="6.3" fill="#1c1c1c">IC<tspan font-size="75%" dy="1.2">50</tspan><tspan dy="-1.2"> = 17 nmol/L</tspan></text>
<text x="287.2" y="229.4" font-size="6.3" fill="#1c1c1c">(95% CI: 14–19)</text>
<text x="325" y="139.7" font-size="8.5" text-anchor="middle" font-weight="bold" fill="#000">HCC1806</text>
<text x="324" y="150.2" font-size="8.5" text-anchor="middle" font-weight="bold" fill="#000">Glutamine</text>
<text x="328.5" y="256.5" font-size="8.6" text-anchor="middle" fill="#1c1c1c">[CB-839] (nmol/L)</text>
<text x="251.2" y="190" font-size="8.6" text-anchor="middle" transform="rotate(-90 251.2 190)" fill="#1c1c1c">Consumption rate</text>
<text x="261.7" y="189.4" font-size="7.5" text-anchor="middle" transform="rotate(-90 261.7 189.4)" fill="#1c1c1c">(nmol/min/10<tspan font-size="70%" dy="-2.2">6</tspan><tspan dy="2.2"> cells)</tspan></text>
<line x1="414.3" y1="150.9" x2="414.3" y2="232.9" stroke="#1c1c1c" stroke-width="1.0" stroke-linecap="butt"/>
<line x1="410.8" y1="232.4" x2="414.8" y2="232.4" stroke="#1c1c1c" stroke-width="0.95" stroke-linecap="butt"/>
<text x="409" y="234.67" font-size="6.3" text-anchor="end" fill="#1c1c1c">0.0</text>
<line x1="410.8" y1="205.4" x2="414.8" y2="205.4" stroke="#1c1c1c" stroke-width="0.95" stroke-linecap="butt"/>
<text x="409" y="207.67" font-size="6.3" text-anchor="end" fill="#1c1c1c">0.2</text>
<line x1="410.8" y1="178.4" x2="414.8" y2="178.4" stroke="#1c1c1c" stroke-width="0.95" stroke-linecap="butt"/>
<text x="409" y="180.67" font-size="6.3" text-anchor="end" fill="#1c1c1c">0.4</text>
<line x1="410.8" y1="151.4" x2="414.8" y2="151.4" stroke="#1c1c1c" stroke-width="0.95" stroke-linecap="butt"/>
<text x="409" y="153.67" font-size="6.3" text-anchor="end" fill="#1c1c1c">0.6</text>
<line x1="414.3" y1="232.4" x2="496.4" y2="232.4" stroke="#1c1c1c" stroke-width="1.0" stroke-linecap="butt"/>
<line x1="414.95" y1="231.95" x2="414.95" y2="235.7" stroke="#1c1c1c" stroke-width="0.95" stroke-linecap="butt"/>
<line x1="421.05" y1="232.4" x2="421.05" y2="234.6" stroke="#1c1c1c" stroke-width="0.95" stroke-linecap="butt"/>
<line x1="424.61" y1="232.4" x2="424.61" y2="234.6" stroke="#1c1c1c" stroke-width="0.95" stroke-linecap="butt"/>
<line x1="427.14" y1="232.4" x2="427.14" y2="234.6" stroke="#1c1c1c" stroke-width="0.95" stroke-linecap="butt"/>
<line x1="429.1" y1="232.4" x2="429.1" y2="234.6" stroke="#1c1c1c" stroke-width="0.95" stroke-linecap="butt"/>
<line x1="430.71" y1="232.4" x2="430.71" y2="234.6" stroke="#1c1c1c" stroke-width="0.95" stroke-linecap="butt"/>
<line x1="432.06" y1="232.4" x2="432.06" y2="234.6" stroke="#1c1c1c" stroke-width="0.95" stroke-linecap="butt"/>
<line x1="433.24" y1="232.4" x2="433.24" y2="234.6" stroke="#1c1c1c" stroke-width="0.95" stroke-linecap="butt"/>
<line x1="434.27" y1="232.4" x2="434.27" y2="234.6" stroke="#1c1c1c" stroke-width="0.95" stroke-linecap="butt"/>
<line x1="435.2" y1="231.95" x2="435.2" y2="235.7" stroke="#1c1c1c" stroke-width="0.95" stroke-linecap="butt"/>
<line x1="441.3" y1="232.4" x2="441.3" y2="234.6" stroke="#1c1c1c" stroke-width="0.95" stroke-linecap="butt"/>
<line x1="444.86" y1="232.4" x2="444.86" y2="234.6" stroke="#1c1c1c" stroke-width="0.95" stroke-linecap="butt"/>
<line x1="447.39" y1="232.4" x2="447.39" y2="234.6" stroke="#1c1c1c" stroke-width="0.95" stroke-linecap="butt"/>
<line x1="449.35" y1="232.4" x2="449.35" y2="234.6" stroke="#1c1c1c" stroke-width="0.95" stroke-linecap="butt"/>
<line x1="450.96" y1="232.4" x2="450.96" y2="234.6" stroke="#1c1c1c" stroke-width="0.95" stroke-linecap="butt"/>
<line x1="452.31" y1="232.4" x2="452.31" y2="234.6" stroke="#1c1c1c" stroke-width="0.95" stroke-linecap="butt"/>
<line x1="453.49" y1="232.4" x2="453.49" y2="234.6" stroke="#1c1c1c" stroke-width="0.95" stroke-linecap="butt"/>
<line x1="454.52" y1="232.4" x2="454.52" y2="234.6" stroke="#1c1c1c" stroke-width="0.95" stroke-linecap="butt"/>
<line x1="455.45" y1="231.95" x2="455.45" y2="235.7" stroke="#1c1c1c" stroke-width="0.95" stroke-linecap="butt"/>
<line x1="461.55" y1="232.4" x2="461.55" y2="234.6" stroke="#1c1c1c" stroke-width="0.95" stroke-linecap="butt"/>
<line x1="465.11" y1="232.4" x2="465.11" y2="234.6" stroke="#1c1c1c" stroke-width="0.95" stroke-linecap="butt"/>
<line x1="467.64" y1="232.4" x2="467.64" y2="234.6" stroke="#1c1c1c" stroke-width="0.95" stroke-linecap="butt"/>
<line x1="469.6" y1="232.4" x2="469.6" y2="234.6" stroke="#1c1c1c" stroke-width="0.95" stroke-linecap="butt"/>
<line x1="471.21" y1="232.4" x2="471.21" y2="234.6" stroke="#1c1c1c" stroke-width="0.95" stroke-linecap="butt"/>
<line x1="472.56" y1="232.4" x2="472.56" y2="234.6" stroke="#1c1c1c" stroke-width="0.95" stroke-linecap="butt"/>
<line x1="473.74" y1="232.4" x2="473.74" y2="234.6" stroke="#1c1c1c" stroke-width="0.95" stroke-linecap="butt"/>
<line x1="474.77" y1="232.4" x2="474.77" y2="234.6" stroke="#1c1c1c" stroke-width="0.95" stroke-linecap="butt"/>
<line x1="475.7" y1="231.95" x2="475.7" y2="235.7" stroke="#1c1c1c" stroke-width="0.95" stroke-linecap="butt"/>
<line x1="481.8" y1="232.4" x2="481.8" y2="234.6" stroke="#1c1c1c" stroke-width="0.95" stroke-linecap="butt"/>
<line x1="485.36" y1="232.4" x2="485.36" y2="234.6" stroke="#1c1c1c" stroke-width="0.95" stroke-linecap="butt"/>
<line x1="487.89" y1="232.4" x2="487.89" y2="234.6" stroke="#1c1c1c" stroke-width="0.95" stroke-linecap="butt"/>
<line x1="489.85" y1="232.4" x2="489.85" y2="234.6" stroke="#1c1c1c" stroke-width="0.95" stroke-linecap="butt"/>
<line x1="491.46" y1="232.4" x2="491.46" y2="234.6" stroke="#1c1c1c" stroke-width="0.95" stroke-linecap="butt"/>
<line x1="492.81" y1="232.4" x2="492.81" y2="234.6" stroke="#1c1c1c" stroke-width="0.95" stroke-linecap="butt"/>
<line x1="493.99" y1="232.4" x2="493.99" y2="234.6" stroke="#1c1c1c" stroke-width="0.95" stroke-linecap="butt"/>
<line x1="495.02" y1="232.4" x2="495.02" y2="234.6" stroke="#1c1c1c" stroke-width="0.95" stroke-linecap="butt"/>
<line x1="495.95" y1="231.95" x2="495.95" y2="235.7" stroke="#1c1c1c" stroke-width="0.95" stroke-linecap="butt"/>
<text x="414.95" y="244.4" font-size="6.3" text-anchor="middle" fill="#1c1c1c">0.1</text>
<text x="435.2" y="244.4" font-size="6.3" text-anchor="middle" fill="#1c1c1c">1</text>
<text x="455.45" y="244.4" font-size="6.3" text-anchor="middle" fill="#1c1c1c">10</text>
<text x="475.7" y="244.4" font-size="6.3" text-anchor="middle" fill="#1c1c1c">100</text>
<text x="495.95" y="244.4" font-size="6.3" text-anchor="middle" fill="#1c1c1c">1,000</text>
<path d="M414.95 168.97L415.96 168.97L416.97 168.98L417.99 168.98L419 168.99L420.01 169L421.02 169.01L422.04 169.02L423.05 169.03L424.06 169.05L425.07 169.06L426.09 169.09L427.1 169.12L428.11 169.15L429.12 169.19L430.14 169.24L431.15 169.3L432.16 169.37L433.18 169.45L434.19 169.55L435.2 169.67L436.21 169.81L437.22 169.98L438.24 170.18L439.25 170.43L440.26 170.72L441.27 171.06L442.29 171.47L443.3 171.95L444.31 172.52L445.32 173.18L446.34 173.96L447.35 174.87L448.36 175.92L449.38 177.12L450.39 178.48L451.4 180.03L452.41 181.75L453.43 183.65L454.44 185.72L455.45 187.95L456.46 190.31L457.47 192.77L458.49 195.3L459.5 197.84L460.51 200.37L461.52 202.83L462.54 205.2L463.55 207.43L464.56 209.51L465.57 211.42L466.59 213.15L467.6 214.7L468.61 216.08L469.62 217.29L470.64 218.34L471.65 219.25L472.66 220.03L473.68 220.71L474.69 221.28L475.7 221.76L476.71 222.17L477.72 222.52L478.74 222.81L479.75 223.06L480.76 223.26L481.77 223.43L482.79 223.58L483.8 223.7L484.81 223.8L485.82 223.88L486.84 223.95L487.85 224.01L488.86 224.06L489.88 224.1L490.89 224.13L491.9 224.16L492.91 224.18L493.93 224.2L494.94 224.22L495.95 224.23" fill="none" stroke="#1c1c1c" stroke-width="1.05" stroke-linejoin="round"/>
<line x1="418.66" y1="163.55" x2="418.66" y2="168.95" stroke="#1c1c1c" stroke-width="0.9" stroke-linecap="butt"/>
<line x1="416.86" y1="163.55" x2="420.46" y2="163.55" stroke="#1c1c1c" stroke-width="0.9" stroke-linecap="butt"/>
<line x1="416.86" y1="168.95" x2="420.46" y2="168.95" stroke="#1c1c1c" stroke-width="0.9" stroke-linecap="butt"/>
<rect x="416.61" y="164.2" width="4.1" height="4.1" fill="#fff" stroke="#1c1c1c" stroke-width="1.0"/>
<line x1="428.32" y1="165.85" x2="428.32" y2="171.25" stroke="#1c1c1c" stroke-width="0.9" stroke-linecap="butt"/>
<line x1="426.52" y1="165.85" x2="430.12" y2="165.85" stroke="#1c1c1c" stroke-width="0.9" stroke-linecap="butt"/>
<line x1="426.52" y1="171.25" x2="430.12" y2="171.25" stroke="#1c1c1c" stroke-width="0.9" stroke-linecap="butt"/>
<rect x="426.27" y="166.5" width="4.1" height="4.1" fill="#fff" stroke="#1c1c1c" stroke-width="1.0"/>
<line x1="437.98" y1="175.03" x2="437.98" y2="178.27" stroke="#1c1c1c" stroke-width="0.9" stroke-linecap="butt"/>
<line x1="436.18" y1="175.03" x2="439.78" y2="175.03" stroke="#1c1c1c" stroke-width="0.9" stroke-linecap="butt"/>
<line x1="436.18" y1="178.27" x2="439.78" y2="178.27" stroke="#1c1c1c" stroke-width="0.9" stroke-linecap="butt"/>
<rect x="435.93" y="174.59" width="4.1" height="4.1" fill="#fff" stroke="#1c1c1c" stroke-width="1.0"/>
<line x1="447.64" y1="170.3" x2="447.64" y2="186.5" stroke="#1c1c1c" stroke-width="0.9" stroke-linecap="butt"/>
<line x1="445.84" y1="170.3" x2="449.44" y2="170.3" stroke="#1c1c1c" stroke-width="0.9" stroke-linecap="butt"/>
<line x1="445.84" y1="186.5" x2="449.44" y2="186.5" stroke="#1c1c1c" stroke-width="0.9" stroke-linecap="butt"/>
<rect x="445.59" y="176.35" width="4.1" height="4.1" fill="#fff" stroke="#1c1c1c" stroke-width="1.0"/>
<line x1="457.3" y1="184.07" x2="457.3" y2="192.98" stroke="#1c1c1c" stroke-width="0.9" stroke-linecap="butt"/>
<line x1="455.5" y1="184.07" x2="459.1" y2="184.07" stroke="#1c1c1c" stroke-width="0.9" stroke-linecap="butt"/>
<line x1="455.5" y1="192.98" x2="459.1" y2="192.98" stroke="#1c1c1c" stroke-width="0.9" stroke-linecap="butt"/>
<rect x="455.25" y="186.47" width="4.1" height="4.1" fill="#fff" stroke="#1c1c1c" stroke-width="1.0"/>
<line x1="466.96" y1="210.94" x2="466.96" y2="220.38" stroke="#1c1c1c" stroke-width="0.9" stroke-linecap="butt"/>
<line x1="465.16" y1="210.94" x2="468.76" y2="210.94" stroke="#1c1c1c" stroke-width="0.9" stroke-linecap="butt"/>
<line x1="465.16" y1="220.38" x2="468.76" y2="220.38" stroke="#1c1c1c" stroke-width="0.9" stroke-linecap="butt"/>
<rect x="464.91" y="213.61" width="4.1" height="4.1" fill="#fff" stroke="#1c1c1c" stroke-width="1.0"/>
<line x1="476.63" y1="214.58" x2="476.63" y2="224.3" stroke="#1c1c1c" stroke-width="0.9" stroke-linecap="butt"/>
<line x1="474.83" y1="214.58" x2="478.43" y2="214.58" stroke="#1c1c1c" stroke-width="0.9" stroke-linecap="butt"/>
<line x1="474.83" y1="224.3" x2="478.43" y2="224.3" stroke="#1c1c1c" stroke-width="0.9" stroke-linecap="butt"/>
<rect x="474.58" y="217.39" width="4.1" height="4.1" fill="#fff" stroke="#1c1c1c" stroke-width="1.0"/>
<line x1="486.29" y1="214.85" x2="486.29" y2="224.57" stroke="#1c1c1c" stroke-width="0.9" stroke-linecap="butt"/>
<line x1="484.49" y1="214.85" x2="488.09" y2="214.85" stroke="#1c1c1c" stroke-width="0.9" stroke-linecap="butt"/>
<line x1="484.49" y1="224.57" x2="488.09" y2="224.57" stroke="#1c1c1c" stroke-width="0.9" stroke-linecap="butt"/>
<rect x="484.24" y="217.66" width="4.1" height="4.1" fill="#fff" stroke="#1c1c1c" stroke-width="1.0"/>
<line x1="495.95" y1="221.73" x2="495.95" y2="229.84" stroke="#1c1c1c" stroke-width="0.9" stroke-linecap="butt"/>
<line x1="494.15" y1="221.73" x2="497.75" y2="221.73" stroke="#1c1c1c" stroke-width="0.9" stroke-linecap="butt"/>
<line x1="494.15" y1="229.84" x2="497.75" y2="229.84" stroke="#1c1c1c" stroke-width="0.9" stroke-linecap="butt"/>
<rect x="493.9" y="223.73" width="4.1" height="4.1" fill="#fff" stroke="#1c1c1c" stroke-width="1.0"/>
<text x="416.8" y="220.4" font-size="6.3" fill="#1c1c1c">IC<tspan font-size="75%" dy="1.2">50</tspan><tspan dy="-1.2"> = 15 nmol/L</tspan></text>
<text x="416.5" y="228.6" font-size="6.3" fill="#1c1c1c">(95% CI: 9.7–24)</text>
<text x="456" y="139.5" font-size="8.5" text-anchor="middle" font-weight="bold" fill="#000">HCC1806</text>
<text x="456" y="150.2" font-size="8.5" text-anchor="middle" font-weight="bold" fill="#000">Glutamate</text>
<text x="458.8" y="256.5" font-size="8.6" text-anchor="middle" fill="#1c1c1c">[CB-839] (nmol/L)</text>
<text x="380.8" y="190" font-size="8.6" text-anchor="middle" transform="rotate(-90 380.8 190)" fill="#1c1c1c">Production rate</text>
<text x="391" y="189.4" font-size="7.5" text-anchor="middle" transform="rotate(-90 391 189.4)" fill="#1c1c1c">(nmol/min/10<tspan font-size="70%" dy="-2.2">6</tspan><tspan dy="2.2"> cells)</tspan></text>
<line x1="59.5" y1="290.1" x2="59.5" y2="372.4" stroke="#1c1c1c" stroke-width="1.0" stroke-linecap="butt"/>
<line x1="56" y1="371.9" x2="60" y2="371.9" stroke="#1c1c1c" stroke-width="0.95" stroke-linecap="butt"/>
<text x="54.2" y="374.17" font-size="6.3" text-anchor="end" fill="#1c1c1c">0</text>
<line x1="56" y1="344.8" x2="60" y2="344.8" stroke="#1c1c1c" stroke-width="0.95" stroke-linecap="butt"/>
<text x="54.2" y="347.07" font-size="6.3" text-anchor="end" fill="#1c1c1c">3</text>
<line x1="56" y1="317.7" x2="60" y2="317.7" stroke="#1c1c1c" stroke-width="0.95" stroke-linecap="butt"/>
<text x="54.2" y="319.97" font-size="6.3" text-anchor="end" fill="#1c1c1c">6</text>
<line x1="56" y1="290.6" x2="60" y2="290.6" stroke="#1c1c1c" stroke-width="0.95" stroke-linecap="butt"/>
<text x="54.2" y="292.87" font-size="6.3" text-anchor="end" fill="#1c1c1c">9</text>
<line x1="59.5" y1="371.9" x2="98.6" y2="371.9" stroke="#1c1c1c" stroke-width="0.9" stroke-linecap="butt"/>
<line x1="64.1" y1="367" x2="64.1" y2="367.5" stroke="#1c1c1c" stroke-width="0.8" stroke-linecap="butt"/>
<line x1="62.1" y1="367" x2="66.1" y2="367" stroke="#1c1c1c" stroke-width="0.8" stroke-linecap="butt"/>
<clipPath id="c7"><rect x="60.9" y="367.5" width="6.4" height="4.4"/></clipPath>
<rect x="60.9" y="367.5" width="6.4" height="4.4" fill="#fff"/>
<path d="M59.9 386.5L68.3 379.94M59.9 379.7L68.3 373.14M59.9 372.9L68.3 366.34M59.9 366.1L68.3 359.54M59.9 359.3L68.3 352.74" stroke="#000" stroke-width="2.79" fill="none" clip-path="url(#c7)"/>
<rect x="60.9" y="367.5" width="6.4" height="4.4" fill="none" stroke="#000" stroke-width="1.0"/>
<line x1="73.6" y1="297.1" x2="73.6" y2="305.4" stroke="#1c1c1c" stroke-width="0.8" stroke-linecap="butt"/>
<line x1="71.6" y1="297.1" x2="75.6" y2="297.1" stroke="#1c1c1c" stroke-width="0.8" stroke-linecap="butt"/>
<rect x="70.4" y="305.4" width="6.4" height="66.5" fill="#fff" stroke="#000" stroke-width="1.0"/>
<line x1="82.7" y1="342.2" x2="82.7" y2="342.9" stroke="#1c1c1c" stroke-width="0.8" stroke-linecap="butt"/>
<line x1="80.7" y1="342.2" x2="84.7" y2="342.2" stroke="#1c1c1c" stroke-width="0.8" stroke-linecap="butt"/>
<clipPath id="c8"><rect x="79.5" y="342.9" width="6.4" height="29"/></clipPath>
<rect x="79.5" y="342.9" width="6.4" height="29" fill="#fff"/>
<path d="M78.5 379.45L86.9 386.5M78.5 372.65L86.9 379.7M78.5 365.85L86.9 372.9M78.5 359.05L86.9 366.1M78.5 352.25L86.9 359.3M78.5 345.45L86.9 352.5M78.5 338.65L86.9 345.7M78.5 331.85L86.9 338.9M78.5 325.05L86.9 332.1" stroke="#000" stroke-width="3.13" fill="none" clip-path="url(#c8)"/>
<rect x="79.5" y="342.9" width="6.4" height="29" fill="none" stroke="#000" stroke-width="1.0"/>
<line x1="92.1" y1="317.3" x2="92.1" y2="319" stroke="#1c1c1c" stroke-width="0.8" stroke-linecap="butt"/>
<line x1="90.1" y1="317.3" x2="94.1" y2="317.3" stroke="#1c1c1c" stroke-width="0.8" stroke-linecap="butt"/>
<rect x="88.9" y="319" width="6.4" height="52.9" fill="#000" stroke="#000" stroke-width="1.0"/>
<path d="M64.4 291.8V288.8H74V291.8" fill="none" stroke="#1c1c1c" stroke-width="1.1" />
<text x="69.2" y="287.1" font-size="9" text-anchor="middle" font-weight="bold" fill="#000">**</text>
<path d="M83.5 310V307H93.2V310" fill="none" stroke="#1c1c1c" stroke-width="1.1" />
<text x="88.35" y="305.3" font-size="9" text-anchor="middle" font-weight="bold" fill="#000">***</text>
<text x="76.5" y="278.7" font-size="8.5" text-anchor="middle" font-weight="bold" fill="#000">Glutamine</text>
<line x1="113.3" y1="290.1" x2="113.3" y2="372.4" stroke="#1c1c1c" stroke-width="1.0" stroke-linecap="butt"/>
<line x1="109.8" y1="371.9" x2="113.8" y2="371.9" stroke="#1c1c1c" stroke-width="0.95" stroke-linecap="butt"/>
<text x="108" y="374.17" font-size="6.3" text-anchor="end" fill="#1c1c1c">0</text>
<line x1="109.8" y1="351.57" x2="113.8" y2="351.57" stroke="#1c1c1c" stroke-width="0.95" stroke-linecap="butt"/>
<text x="108" y="353.84" font-size="6.3" text-anchor="end" fill="#1c1c1c">3</text>
<line x1="109.8" y1="331.25" x2="113.8" y2="331.25" stroke="#1c1c1c" stroke-width="0.95" stroke-linecap="butt"/>
<text x="108" y="333.52" font-size="6.3" text-anchor="end" fill="#1c1c1c">6</text>
<line x1="109.8" y1="310.93" x2="113.8" y2="310.93" stroke="#1c1c1c" stroke-width="0.95" stroke-linecap="butt"/>
<text x="108" y="313.19" font-size="6.3" text-anchor="end" fill="#1c1c1c">9</text>
<line x1="109.8" y1="290.6" x2="113.8" y2="290.6" stroke="#1c1c1c" stroke-width="0.95" stroke-linecap="butt"/>
<text x="108" y="292.87" font-size="6.3" text-anchor="end" fill="#1c1c1c">12</text>
<line x1="113.3" y1="371.9" x2="152.6" y2="371.9" stroke="#1c1c1c" stroke-width="0.9" stroke-linecap="butt"/>
<line x1="118" y1="302.5" x2="118" y2="303.5" stroke="#1c1c1c" stroke-width="0.8" stroke-linecap="butt"/>
<line x1="116" y1="302.5" x2="120" y2="302.5" stroke="#1c1c1c" stroke-width="0.8" stroke-linecap="butt"/>
<clipPath id="c9"><rect x="114.8" y="303.5" width="6.4" height="68.4"/></clipPath>
<rect x="114.8" y="303.5" width="6.4" height="68.4" fill="#fff"/>
<path d="M113.8 386.5L122.2 379.94M113.8 379.7L122.2 373.14M113.8 372.9L122.2 366.34M113.8 366.1L122.2 359.54M113.8 359.3L122.2 352.74M113.8 352.5L122.2 345.94M113.8 345.7L122.2 339.14M113.8 338.9L122.2 332.34M113.8 332.1L122.2 325.54M113.8 325.3L122.2 318.74M113.8 318.5L122.2 311.94M113.8 311.7L122.2 305.14M113.8 304.9L122.2 298.34M113.8 298.1L122.2 291.54M113.8 291.3L122.2 284.74" stroke="#000" stroke-width="2.79" fill="none" clip-path="url(#c9)"/>
<rect x="114.8" y="303.5" width="6.4" height="68.4" fill="none" stroke="#000" stroke-width="1.0"/>
<line x1="127.5" y1="358.4" x2="127.5" y2="359.4" stroke="#1c1c1c" stroke-width="0.8" stroke-linecap="butt"/>
<line x1="125.5" y1="358.4" x2="129.5" y2="358.4" stroke="#1c1c1c" stroke-width="0.8" stroke-linecap="butt"/>
<rect x="124.3" y="359.4" width="6.4" height="12.5" fill="#fff" stroke="#000" stroke-width="1.0"/>
<line x1="137.2" y1="319.8" x2="137.2" y2="323" stroke="#1c1c1c" stroke-width="0.8" stroke-linecap="butt"/>
<line x1="135.2" y1="319.8" x2="139.2" y2="319.8" stroke="#1c1c1c" stroke-width="0.8" stroke-linecap="butt"/>
<clipPath id="c10"><rect x="134" y="323" width="6.4" height="48.9"/></clipPath>
<rect x="134" y="323" width="6.4" height="48.9" fill="#fff"/>
<path d="M133 379.45L141.4 386.5M133 372.65L141.4 379.7M133 365.85L141.4 372.9M133 359.05L141.4 366.1M133 352.25L141.4 359.3M133 345.45L141.4 352.5M133 338.65L141.4 345.7M133 331.85L141.4 338.9M133 325.05L141.4 332.1M133 318.25L141.4 325.3M133 311.45L141.4 318.5M133 304.65L141.4 311.7" stroke="#000" stroke-width="3.13" fill="none" clip-path="url(#c10)"/>
<rect x="134" y="323" width="6.4" height="48.9" fill="none" stroke="#000" stroke-width="1.0"/>
<line x1="146.7" y1="335.2" x2="146.7" y2="336.2" stroke="#1c1c1c" stroke-width="0.8" stroke-linecap="butt"/>
<line x1="144.7" y1="335.2" x2="148.7" y2="335.2" stroke="#1c1c1c" stroke-width="0.8" stroke-linecap="butt"/>
<rect x="143.5" y="336.2" width="6.4" height="35.7" fill="#000" stroke="#000" stroke-width="1.0"/>
<path d="M118.5 297.5V294.5H127.7V297.5" fill="none" stroke="#1c1c1c" stroke-width="1.1" />
<text x="123.1" y="292.8" font-size="9" text-anchor="middle" font-weight="bold" fill="#000">****</text>
<path d="M137.5 313.6V310.6H146.7V313.6" fill="none" stroke="#1c1c1c" stroke-width="1.1" />
<text x="142.1" y="308.9" font-size="9" text-anchor="middle" font-weight="bold" fill="#000">*</text>
<text x="130.7" y="278.7" font-size="8.5" text-anchor="middle" font-weight="bold" fill="#000">Glutamate</text>
<line x1="166.9" y1="290.1" x2="166.9" y2="372.4" stroke="#1c1c1c" stroke-width="1.0" stroke-linecap="butt"/>
<line x1="163.4" y1="371.9" x2="167.4" y2="371.9" stroke="#1c1c1c" stroke-width="0.95" stroke-linecap="butt"/>
<text x="161.6" y="374.17" font-size="6.3" text-anchor="end" fill="#1c1c1c">0</text>
<line x1="163.4" y1="355.64" x2="167.4" y2="355.64" stroke="#1c1c1c" stroke-width="0.95" stroke-linecap="butt"/>
<text x="161.6" y="357.91" font-size="6.3" text-anchor="end" fill="#1c1c1c">1</text>
<line x1="163.4" y1="339.38" x2="167.4" y2="339.38" stroke="#1c1c1c" stroke-width="0.95" stroke-linecap="butt"/>
<text x="161.6" y="341.65" font-size="6.3" text-anchor="end" fill="#1c1c1c">2</text>
<line x1="163.4" y1="323.12" x2="167.4" y2="323.12" stroke="#1c1c1c" stroke-width="0.95" stroke-linecap="butt"/>
<text x="161.6" y="325.39" font-size="6.3" text-anchor="end" fill="#1c1c1c">3</text>
<line x1="163.4" y1="306.86" x2="167.4" y2="306.86" stroke="#1c1c1c" stroke-width="0.95" stroke-linecap="butt"/>
<text x="161.6" y="309.13" font-size="6.3" text-anchor="end" fill="#1c1c1c">4</text>
<line x1="163.4" y1="290.6" x2="167.4" y2="290.6" stroke="#1c1c1c" stroke-width="0.95" stroke-linecap="butt"/>
<text x="161.6" y="292.87" font-size="6.3" text-anchor="end" fill="#1c1c1c">5</text>
<line x1="166.9" y1="371.9" x2="206" y2="371.9" stroke="#1c1c1c" stroke-width="0.9" stroke-linecap="butt"/>
<line x1="171.6" y1="308.4" x2="171.6" y2="310.2" stroke="#1c1c1c" stroke-width="0.8" stroke-linecap="butt"/>
<line x1="169.6" y1="308.4" x2="173.6" y2="308.4" stroke="#1c1c1c" stroke-width="0.8" stroke-linecap="butt"/>
<clipPath id="c11"><rect x="168.4" y="310.2" width="6.4" height="61.7"/></clipPath>
<rect x="168.4" y="310.2" width="6.4" height="61.7" fill="#fff"/>
<path d="M167.4 386.5L175.8 379.94M167.4 379.7L175.8 373.14M167.4 372.9L175.8 366.34M167.4 366.1L175.8 359.54M167.4 359.3L175.8 352.74M167.4 352.5L175.8 345.94M167.4 345.7L175.8 339.14M167.4 338.9L175.8 332.34M167.4 332.1L175.8 325.54M167.4 325.3L175.8 318.74M167.4 318.5L175.8 311.94M167.4 311.7L175.8 305.14M167.4 304.9L175.8 298.34M167.4 298.1L175.8 291.54" stroke="#000" stroke-width="2.79" fill="none" clip-path="url(#c11)"/>
<rect x="168.4" y="310.2" width="6.4" height="61.7" fill="none" stroke="#000" stroke-width="1.0"/>
<line x1="180.8" y1="364.4" x2="180.8" y2="365" stroke="#1c1c1c" stroke-width="0.8" stroke-linecap="butt"/>
<line x1="178.8" y1="364.4" x2="182.8" y2="364.4" stroke="#1c1c1c" stroke-width="0.8" stroke-linecap="butt"/>
<rect x="177.6" y="365" width="6.4" height="6.9" fill="#fff" stroke="#000" stroke-width="1.0"/>
<line x1="190.2" y1="350.2" x2="190.2" y2="350.7" stroke="#1c1c1c" stroke-width="0.8" stroke-linecap="butt"/>
<line x1="188.2" y1="350.2" x2="192.2" y2="350.2" stroke="#1c1c1c" stroke-width="0.8" stroke-linecap="butt"/>
<clipPath id="c12"><rect x="187" y="350.7" width="6.4" height="21.2"/></clipPath>
<rect x="187" y="350.7" width="6.4" height="21.2" fill="#fff"/>
<path d="M186 379.45L194.4 386.5M186 372.65L194.4 379.7M186 365.85L194.4 372.9M186 359.05L194.4 366.1M186 352.25L194.4 359.3M186 345.45L194.4 352.5M186 338.65L194.4 345.7M186 331.85L194.4 338.9" stroke="#000" stroke-width="3.13" fill="none" clip-path="url(#c12)"/>
<rect x="187" y="350.7" width="6.4" height="21.2" fill="none" stroke="#000" stroke-width="1.0"/>
<line x1="199.7" y1="363.4" x2="199.7" y2="364" stroke="#1c1c1c" stroke-width="0.8" stroke-linecap="butt"/>
<line x1="197.7" y1="363.4" x2="201.7" y2="363.4" stroke="#1c1c1c" stroke-width="0.8" stroke-linecap="butt"/>
<rect x="196.5" y="364" width="6.4" height="7.9" fill="#000" stroke="#000" stroke-width="1.0"/>
<path d="M172 302V299H181.2V302" fill="none" stroke="#1c1c1c" stroke-width="1.1" />
<text x="176.6" y="297.3" font-size="9" text-anchor="middle" font-weight="bold" fill="#000">****</text>
<path d="M190.6 343.7V340.7H200V343.7" fill="none" stroke="#1c1c1c" stroke-width="1.1" />
<text x="195.3" y="339" font-size="9" text-anchor="middle" font-weight="bold" fill="#000">***</text>
<text x="185" y="278.7" font-size="8.5" text-anchor="middle" font-weight="bold" fill="#000">Aspartate</text>
<line x1="219.5" y1="290.1" x2="219.5" y2="372.4" stroke="#1c1c1c" stroke-width="1.0" stroke-linecap="butt"/>
<line x1="216" y1="371.9" x2="220" y2="371.9" stroke="#1c1c1c" stroke-width="0.95" stroke-linecap="butt"/>
<text x="214.2" y="374.17" font-size="6.3" text-anchor="end" fill="#1c1c1c">0</text>
<line x1="216" y1="355.64" x2="220" y2="355.64" stroke="#1c1c1c" stroke-width="0.95" stroke-linecap="butt"/>
<text x="214.2" y="357.91" font-size="6.3" text-anchor="end" fill="#1c1c1c">5</text>
<line x1="216" y1="339.38" x2="220" y2="339.38" stroke="#1c1c1c" stroke-width="0.95" stroke-linecap="butt"/>
<text x="214.2" y="341.65" font-size="6.3" text-anchor="end" fill="#1c1c1c">10</text>
<line x1="216" y1="323.12" x2="220" y2="323.12" stroke="#1c1c1c" stroke-width="0.95" stroke-linecap="butt"/>
<text x="214.2" y="325.39" font-size="6.3" text-anchor="end" fill="#1c1c1c">15</text>
<line x1="216" y1="306.86" x2="220" y2="306.86" stroke="#1c1c1c" stroke-width="0.95" stroke-linecap="butt"/>
<text x="214.2" y="309.13" font-size="6.3" text-anchor="end" fill="#1c1c1c">20</text>
<line x1="216" y1="290.6" x2="220" y2="290.6" stroke="#1c1c1c" stroke-width="0.95" stroke-linecap="butt"/>
<text x="214.2" y="292.87" font-size="6.3" text-anchor="end" fill="#1c1c1c">25</text>
<line x1="219.5" y1="371.9" x2="259.3" y2="371.9" stroke="#1c1c1c" stroke-width="0.9" stroke-linecap="butt"/>
<line x1="224.1" y1="302" x2="224.1" y2="306.5" stroke="#1c1c1c" stroke-width="0.8" stroke-linecap="butt"/>
<line x1="222.1" y1="302" x2="226.1" y2="302" stroke="#1c1c1c" stroke-width="0.8" stroke-linecap="butt"/>
<clipPath id="c13"><rect x="220.9" y="306.5" width="6.4" height="65.4"/></clipPath>
<rect x="220.9" y="306.5" width="6.4" height="65.4" fill="#fff"/>
<path d="M219.9 386.5L228.3 379.94M219.9 379.7L228.3 373.14M219.9 372.9L228.3 366.34M219.9 366.1L228.3 359.54M219.9 359.3L228.3 352.74M219.9 352.5L228.3 345.94M219.9 345.7L228.3 339.14M219.9 338.9L228.3 332.34M219.9 332.1L228.3 325.54M219.9 325.3L228.3 318.74M219.9 318.5L228.3 311.94M219.9 311.7L228.3 305.14M219.9 304.9L228.3 298.34M219.9 298.1L228.3 291.54" stroke="#000" stroke-width="2.79" fill="none" clip-path="url(#c13)"/>
<rect x="220.9" y="306.5" width="6.4" height="65.4" fill="none" stroke="#000" stroke-width="1.0"/>
<line x1="233.6" y1="332.2" x2="233.6" y2="336.2" stroke="#1c1c1c" stroke-width="0.8" stroke-linecap="butt"/>
<line x1="231.6" y1="332.2" x2="235.6" y2="332.2" stroke="#1c1c1c" stroke-width="0.8" stroke-linecap="butt"/>
<rect x="230.4" y="336.2" width="6.4" height="35.7" fill="#fff" stroke="#000" stroke-width="1.0"/>
<line x1="243.1" y1="348" x2="243.1" y2="349.5" stroke="#1c1c1c" stroke-width="0.8" stroke-linecap="butt"/>
<line x1="241.1" y1="348" x2="245.1" y2="348" stroke="#1c1c1c" stroke-width="0.8" stroke-linecap="butt"/>
<clipPath id="c14"><rect x="239.9" y="349.5" width="6.4" height="22.4"/></clipPath>
<rect x="239.9" y="349.5" width="6.4" height="22.4" fill="#fff"/>
<path d="M238.9 379.45L247.3 386.5M238.9 372.65L247.3 379.7M238.9 365.85L247.3 372.9M238.9 359.05L247.3 366.1M238.9 352.25L247.3 359.3M238.9 345.45L247.3 352.5M238.9 338.65L247.3 345.7M238.9 331.85L247.3 338.9" stroke="#000" stroke-width="3.13" fill="none" clip-path="url(#c14)"/>
<rect x="239.9" y="349.5" width="6.4" height="22.4" fill="none" stroke="#000" stroke-width="1.0"/>
<line x1="252.5" y1="348.6" x2="252.5" y2="349.5" stroke="#1c1c1c" stroke-width="0.8" stroke-linecap="butt"/>
<line x1="250.5" y1="348.6" x2="254.5" y2="348.6" stroke="#1c1c1c" stroke-width="0.8" stroke-linecap="butt"/>
<rect x="249.3" y="349.5" width="6.4" height="22.4" fill="#000" stroke="#000" stroke-width="1.0"/>
<path d="M224.5 295V292H234V295" fill="none" stroke="#1c1c1c" stroke-width="1.1" />
<text x="229.25" y="290.3" font-size="9" text-anchor="middle" font-weight="bold" fill="#000">**</text>
<text x="237" y="278.7" font-size="8.5" text-anchor="middle" font-weight="bold" fill="#000">Glutathione</text>
<line x1="281.8" y1="290.1" x2="281.8" y2="372.4" stroke="#1c1c1c" stroke-width="1.0" stroke-linecap="butt"/>
<line x1="278.3" y1="371.9" x2="282.3" y2="371.9" stroke="#1c1c1c" stroke-width="0.95" stroke-linecap="butt"/>
<text x="276.5" y="374.17" font-size="6.3" text-anchor="end" fill="#1c1c1c">0.0</text>
<line x1="278.3" y1="344.8" x2="282.3" y2="344.8" stroke="#1c1c1c" stroke-width="0.95" stroke-linecap="butt"/>
<text x="276.5" y="347.07" font-size="6.3" text-anchor="end" fill="#1c1c1c">0.1</text>
<line x1="278.3" y1="317.7" x2="282.3" y2="317.7" stroke="#1c1c1c" stroke-width="0.95" stroke-linecap="butt"/>
<text x="276.5" y="319.97" font-size="6.3" text-anchor="end" fill="#1c1c1c">0.2</text>
<line x1="278.3" y1="290.6" x2="282.3" y2="290.6" stroke="#1c1c1c" stroke-width="0.95" stroke-linecap="butt"/>
<text x="276.5" y="292.87" font-size="6.3" text-anchor="end" fill="#1c1c1c">0.3</text>
<line x1="281.8" y1="371.9" x2="320.8" y2="371.9" stroke="#1c1c1c" stroke-width="0.9" stroke-linecap="butt"/>
<line x1="286.1" y1="314" x2="286.1" y2="318.2" stroke="#1c1c1c" stroke-width="0.8" stroke-linecap="butt"/>
<line x1="284.1" y1="314" x2="288.1" y2="314" stroke="#1c1c1c" stroke-width="0.8" stroke-linecap="butt"/>
<clipPath id="c15"><rect x="282.9" y="318.2" width="6.4" height="53.7"/></clipPath>
<rect x="282.9" y="318.2" width="6.4" height="53.7" fill="#fff"/>
<path d="M281.9 386.5L290.3 379.94M281.9 379.7L290.3 373.14M281.9 372.9L290.3 366.34M281.9 366.1L290.3 359.54M281.9 359.3L290.3 352.74M281.9 352.5L290.3 345.94M281.9 345.7L290.3 339.14M281.9 338.9L290.3 332.34M281.9 332.1L290.3 325.54M281.9 325.3L290.3 318.74M281.9 318.5L290.3 311.94M281.9 311.7L290.3 305.14M281.9 304.9L290.3 298.34" stroke="#000" stroke-width="2.79" fill="none" clip-path="url(#c15)"/>
<rect x="282.9" y="318.2" width="6.4" height="53.7" fill="none" stroke="#000" stroke-width="1.0"/>
<rect x="292.4" y="369.5" width="6.4" height="2.4" fill="#fff" stroke="#000" stroke-width="1.0"/>
<line x1="305.1" y1="300.7" x2="305.1" y2="305" stroke="#1c1c1c" stroke-width="0.8" stroke-linecap="butt"/>
<line x1="303.1" y1="300.7" x2="307.1" y2="300.7" stroke="#1c1c1c" stroke-width="0.8" stroke-linecap="butt"/>
<clipPath id="c16"><rect x="301.9" y="305" width="6.4" height="66.9"/></clipPath>
<rect x="301.9" y="305" width="6.4" height="66.9" fill="#fff"/>
<path d="M300.9 379.45L309.3 386.5M300.9 372.65L309.3 379.7M300.9 365.85L309.3 372.9M300.9 359.05L309.3 366.1M300.9 352.25L309.3 359.3M300.9 345.45L309.3 352.5M300.9 338.65L309.3 345.7M300.9 331.85L309.3 338.9M300.9 325.05L309.3 332.1M300.9 318.25L309.3 325.3M300.9 311.45L309.3 318.5M300.9 304.65L309.3 311.7M300.9 297.85L309.3 304.9M300.9 291.05L309.3 298.1M300.9 284.25L309.3 291.3" stroke="#000" stroke-width="3.13" fill="none" clip-path="url(#c16)"/>
<rect x="301.9" y="305" width="6.4" height="66.9" fill="none" stroke="#000" stroke-width="1.0"/>
<line x1="314.6" y1="330.7" x2="314.6" y2="334" stroke="#1c1c1c" stroke-width="0.8" stroke-linecap="butt"/>
<line x1="312.6" y1="330.7" x2="316.6" y2="330.7" stroke="#1c1c1c" stroke-width="0.8" stroke-linecap="butt"/>
<rect x="311.4" y="334" width="6.4" height="37.9" fill="#000" stroke="#000" stroke-width="1.0"/>
<path d="M286.5 307.5V304.5H295.8V307.5" fill="none" stroke="#1c1c1c" stroke-width="1.1" />
<text x="291.15" y="302.8" font-size="9" text-anchor="middle" font-weight="bold" fill="#000">***</text>
<path d="M305.5 293.7V290.7H314.8V293.7" fill="none" stroke="#1c1c1c" stroke-width="1.1" />
<text x="310.15" y="289" font-size="9" text-anchor="middle" font-weight="bold" fill="#000">**</text>
<text x="299" y="278.7" font-size="8.5" text-anchor="middle" font-weight="bold" fill="#000">Fumarate</text>
<text x="298.8" y="366.6" font-size="7.8" transform="rotate(-90 298.8 366.6)" fill="#1c1c1c">BLOQ</text>
<line x1="342.6" y1="290.1" x2="342.6" y2="372.4" stroke="#1c1c1c" stroke-width="1.0" stroke-linecap="butt"/>
<line x1="339.1" y1="371.9" x2="343.1" y2="371.9" stroke="#1c1c1c" stroke-width="0.95" stroke-linecap="butt"/>
<text x="337.3" y="374.17" font-size="6.3" text-anchor="end" fill="#1c1c1c">0.0</text>
<line x1="339.1" y1="355.64" x2="343.1" y2="355.64" stroke="#1c1c1c" stroke-width="0.95" stroke-linecap="butt"/>
<text x="337.3" y="357.91" font-size="6.3" text-anchor="end" fill="#1c1c1c">0.5</text>
<line x1="339.1" y1="339.38" x2="343.1" y2="339.38" stroke="#1c1c1c" stroke-width="0.95" stroke-linecap="butt"/>
<text x="337.3" y="341.65" font-size="6.3" text-anchor="end" fill="#1c1c1c">1.0</text>
<line x1="339.1" y1="323.12" x2="343.1" y2="323.12" stroke="#1c1c1c" stroke-width="0.95" stroke-linecap="butt"/>
<text x="337.3" y="325.39" font-size="6.3" text-anchor="end" fill="#1c1c1c">1.5</text>
<line x1="339.1" y1="306.86" x2="343.1" y2="306.86" stroke="#1c1c1c" stroke-width="0.95" stroke-linecap="butt"/>
<text x="337.3" y="309.13" font-size="6.3" text-anchor="end" fill="#1c1c1c">2.0</text>
<line x1="339.1" y1="290.6" x2="343.1" y2="290.6" stroke="#1c1c1c" stroke-width="0.95" stroke-linecap="butt"/>
<text x="337.3" y="292.87" font-size="6.3" text-anchor="end" fill="#1c1c1c">2.5</text>
<line x1="342.6" y1="371.9" x2="381.8" y2="371.9" stroke="#1c1c1c" stroke-width="0.9" stroke-linecap="butt"/>
<line x1="347.6" y1="313.2" x2="347.6" y2="315.7" stroke="#1c1c1c" stroke-width="0.8" stroke-linecap="butt"/>
<line x1="345.6" y1="313.2" x2="349.6" y2="313.2" stroke="#1c1c1c" stroke-width="0.8" stroke-linecap="butt"/>
<clipPath id="c17"><rect x="344.4" y="315.7" width="6.4" height="56.2"/></clipPath>
<rect x="344.4" y="315.7" width="6.4" height="56.2" fill="#fff"/>
<path d="M343.4 386.5L351.8 379.94M343.4 379.7L351.8 373.14M343.4 372.9L351.8 366.34M343.4 366.1L351.8 359.54M343.4 359.3L351.8 352.74M343.4 352.5L351.8 345.94M343.4 345.7L351.8 339.14M343.4 338.9L351.8 332.34M343.4 332.1L351.8 325.54M343.4 325.3L351.8 318.74M343.4 318.5L351.8 311.94M343.4 311.7L351.8 305.14M343.4 304.9L351.8 298.34" stroke="#000" stroke-width="2.79" fill="none" clip-path="url(#c17)"/>
<rect x="344.4" y="315.7" width="6.4" height="56.2" fill="none" stroke="#000" stroke-width="1.0"/>
<line x1="357" y1="359.7" x2="357" y2="360.2" stroke="#1c1c1c" stroke-width="0.8" stroke-linecap="butt"/>
<line x1="355" y1="359.7" x2="359" y2="359.7" stroke="#1c1c1c" stroke-width="0.8" stroke-linecap="butt"/>
<rect x="353.8" y="360.2" width="6.4" height="11.7" fill="#fff" stroke="#000" stroke-width="1.0"/>
<line x1="366.5" y1="304.5" x2="366.5" y2="308.7" stroke="#1c1c1c" stroke-width="0.8" stroke-linecap="butt"/>
<line x1="364.5" y1="304.5" x2="368.5" y2="304.5" stroke="#1c1c1c" stroke-width="0.8" stroke-linecap="butt"/>
<clipPath id="c18"><rect x="363.3" y="308.7" width="6.4" height="63.2"/></clipPath>
<rect x="363.3" y="308.7" width="6.4" height="63.2" fill="#fff"/>
<path d="M362.3 379.45L370.7 386.5M362.3 372.65L370.7 379.7M362.3 365.85L370.7 372.9M362.3 359.05L370.7 366.1M362.3 352.25L370.7 359.3M362.3 345.45L370.7 352.5M362.3 338.65L370.7 345.7M362.3 331.85L370.7 338.9M362.3 325.05L370.7 332.1M362.3 318.25L370.7 325.3M362.3 311.45L370.7 318.5M362.3 304.65L370.7 311.7M362.3 297.85L370.7 304.9M362.3 291.05L370.7 298.1" stroke="#000" stroke-width="3.13" fill="none" clip-path="url(#c18)"/>
<rect x="363.3" y="308.7" width="6.4" height="63.2" fill="none" stroke="#000" stroke-width="1.0"/>
<line x1="376" y1="327.5" x2="376" y2="330.7" stroke="#1c1c1c" stroke-width="0.8" stroke-linecap="butt"/>
<line x1="374" y1="327.5" x2="378" y2="327.5" stroke="#1c1c1c" stroke-width="0.8" stroke-linecap="butt"/>
<rect x="372.8" y="330.7" width="6.4" height="41.2" fill="#000" stroke="#000" stroke-width="1.0"/>
<path d="M347.5 307.5V304.5H357V307.5" fill="none" stroke="#1c1c1c" stroke-width="1.1" />
<text x="352.25" y="302.8" font-size="9" text-anchor="middle" font-weight="bold" fill="#000">***</text>
<path d="M366.5 298.7V295.7H376V298.7" fill="none" stroke="#1c1c1c" stroke-width="1.1" />
<text x="371.25" y="294" font-size="9" text-anchor="middle" font-weight="bold" fill="#000">*</text>
<text x="360" y="278.7" font-size="8.5" text-anchor="middle" font-weight="bold" fill="#000">Malate</text>
<line x1="400.8" y1="290.1" x2="400.8" y2="372.4" stroke="#1c1c1c" stroke-width="1.0" stroke-linecap="butt"/>
<line x1="397.3" y1="371.9" x2="401.3" y2="371.9" stroke="#1c1c1c" stroke-width="0.95" stroke-linecap="butt"/>
<text x="395.5" y="374.17" font-size="6.3" text-anchor="end" fill="#1c1c1c">0.0</text>
<line x1="397.3" y1="351.57" x2="401.3" y2="351.57" stroke="#1c1c1c" stroke-width="0.95" stroke-linecap="butt"/>
<text x="395.5" y="353.84" font-size="6.3" text-anchor="end" fill="#1c1c1c">0.3</text>
<line x1="397.3" y1="331.25" x2="401.3" y2="331.25" stroke="#1c1c1c" stroke-width="0.95" stroke-linecap="butt"/>
<text x="395.5" y="333.52" font-size="6.3" text-anchor="end" fill="#1c1c1c">0.6</text>
<line x1="397.3" y1="310.93" x2="401.3" y2="310.93" stroke="#1c1c1c" stroke-width="0.95" stroke-linecap="butt"/>
<text x="395.5" y="313.19" font-size="6.3" text-anchor="end" fill="#1c1c1c">0.9</text>
<line x1="397.3" y1="290.6" x2="401.3" y2="290.6" stroke="#1c1c1c" stroke-width="0.95" stroke-linecap="butt"/>
<text x="395.5" y="292.87" font-size="6.3" text-anchor="end" fill="#1c1c1c">1.2</text>
<line x1="400.8" y1="371.9" x2="440" y2="371.9" stroke="#1c1c1c" stroke-width="0.9" stroke-linecap="butt"/>
<line x1="405.5" y1="332.3" x2="405.5" y2="334.2" stroke="#1c1c1c" stroke-width="0.8" stroke-linecap="butt"/>
<line x1="403.5" y1="332.3" x2="407.5" y2="332.3" stroke="#1c1c1c" stroke-width="0.8" stroke-linecap="butt"/>
<clipPath id="c19"><rect x="402.3" y="334.2" width="6.4" height="37.7"/></clipPath>
<rect x="402.3" y="334.2" width="6.4" height="37.7" fill="#fff"/>
<path d="M401.3 386.5L409.7 379.94M401.3 379.7L409.7 373.14M401.3 372.9L409.7 366.34M401.3 366.1L409.7 359.54M401.3 359.3L409.7 352.74M401.3 352.5L409.7 345.94M401.3 345.7L409.7 339.14M401.3 338.9L409.7 332.34M401.3 332.1L409.7 325.54M401.3 325.3L409.7 318.74" stroke="#000" stroke-width="2.79" fill="none" clip-path="url(#c19)"/>
<rect x="402.3" y="334.2" width="6.4" height="37.7" fill="none" stroke="#000" stroke-width="1.0"/>
<line x1="414.9" y1="364.6" x2="414.9" y2="367.3" stroke="#1c1c1c" stroke-width="0.8" stroke-linecap="butt"/>
<line x1="412.9" y1="364.6" x2="416.9" y2="364.6" stroke="#1c1c1c" stroke-width="0.8" stroke-linecap="butt"/>
<rect x="411.7" y="367.3" width="6.4" height="4.6" fill="#fff" stroke="#000" stroke-width="1.0"/>
<line x1="424.4" y1="305.9" x2="424.4" y2="311.5" stroke="#1c1c1c" stroke-width="0.8" stroke-linecap="butt"/>
<line x1="422.4" y1="305.9" x2="426.4" y2="305.9" stroke="#1c1c1c" stroke-width="0.8" stroke-linecap="butt"/>
<clipPath id="c20"><rect x="421.2" y="311.5" width="6.4" height="60.4"/></clipPath>
<rect x="421.2" y="311.5" width="6.4" height="60.4" fill="#fff"/>
<path d="M420.2 379.45L428.6 386.5M420.2 372.65L428.6 379.7M420.2 365.85L428.6 372.9M420.2 359.05L428.6 366.1M420.2 352.25L428.6 359.3M420.2 345.45L428.6 352.5M420.2 338.65L428.6 345.7M420.2 331.85L428.6 338.9M420.2 325.05L428.6 332.1M420.2 318.25L428.6 325.3M420.2 311.45L428.6 318.5M420.2 304.65L428.6 311.7M420.2 297.85L428.6 304.9M420.2 291.05L428.6 298.1" stroke="#000" stroke-width="3.13" fill="none" clip-path="url(#c20)"/>
<rect x="421.2" y="311.5" width="6.4" height="60.4" fill="none" stroke="#000" stroke-width="1.0"/>
<line x1="433.8" y1="302.4" x2="433.8" y2="309.1" stroke="#1c1c1c" stroke-width="0.8" stroke-linecap="butt"/>
<line x1="431.8" y1="302.4" x2="435.8" y2="302.4" stroke="#1c1c1c" stroke-width="0.8" stroke-linecap="butt"/>
<rect x="430.6" y="309.1" width="6.4" height="62.8" fill="#000" stroke="#000" stroke-width="1.0"/>
<path d="M405.8 323.2V320.2H415.3V323.2" fill="none" stroke="#1c1c1c" stroke-width="1.1" />
<text x="410.55" y="318.5" font-size="9" text-anchor="middle" font-weight="bold" fill="#000">***</text>
<text x="418.5" y="278.7" font-size="8.5" text-anchor="middle" font-weight="bold" fill="#000">Citrate</text>
<line x1="463.9" y1="290.1" x2="463.9" y2="372.4" stroke="#1c1c1c" stroke-width="1.0" stroke-linecap="butt"/>
<line x1="460.4" y1="371.9" x2="464.4" y2="371.9" stroke="#1c1c1c" stroke-width="0.95" stroke-linecap="butt"/>
<text x="458.6" y="374.17" font-size="6.3" text-anchor="end" fill="#1c1c1c">0.00</text>
<line x1="460.4" y1="351.57" x2="464.4" y2="351.57" stroke="#1c1c1c" stroke-width="0.95" stroke-linecap="butt"/>
<text x="458.6" y="353.84" font-size="6.3" text-anchor="end" fill="#1c1c1c">0.05</text>
<line x1="460.4" y1="331.25" x2="464.4" y2="331.25" stroke="#1c1c1c" stroke-width="0.95" stroke-linecap="butt"/>
<text x="458.6" y="333.52" font-size="6.3" text-anchor="end" fill="#1c1c1c">0.10</text>
<line x1="460.4" y1="310.93" x2="464.4" y2="310.93" stroke="#1c1c1c" stroke-width="0.95" stroke-linecap="butt"/>
<text x="458.6" y="313.19" font-size="6.3" text-anchor="end" fill="#1c1c1c">0.15</text>
<line x1="460.4" y1="290.6" x2="464.4" y2="290.6" stroke="#1c1c1c" stroke-width="0.95" stroke-linecap="butt"/>
<text x="458.6" y="292.87" font-size="6.3" text-anchor="end" fill="#1c1c1c">0.20</text>
<line x1="463.9" y1="371.9" x2="503" y2="371.9" stroke="#1c1c1c" stroke-width="0.9" stroke-linecap="butt"/>
<line x1="468.8" y1="295.7" x2="468.8" y2="296.2" stroke="#1c1c1c" stroke-width="0.8" stroke-linecap="butt"/>
<line x1="466.8" y1="295.7" x2="470.8" y2="295.7" stroke="#1c1c1c" stroke-width="0.8" stroke-linecap="butt"/>
<clipPath id="c21"><rect x="465.6" y="296.2" width="6.4" height="75.7"/></clipPath>
<rect x="465.6" y="296.2" width="6.4" height="75.7" fill="#fff"/>
<path d="M464.6 386.5L473 379.94M464.6 379.7L473 373.14M464.6 372.9L473 366.34M464.6 366.1L473 359.54M464.6 359.3L473 352.74M464.6 352.5L473 345.94M464.6 345.7L473 339.14M464.6 338.9L473 332.34M464.6 332.1L473 325.54M464.6 325.3L473 318.74M464.6 318.5L473 311.94M464.6 311.7L473 305.14M464.6 304.9L473 298.34M464.6 298.1L473 291.54M464.6 291.3L473 284.74M464.6 284.5L473 277.94" stroke="#000" stroke-width="2.79" fill="none" clip-path="url(#c21)"/>
<rect x="465.6" y="296.2" width="6.4" height="75.7" fill="none" stroke="#000" stroke-width="1.0"/>
<line x1="478.2" y1="299.7" x2="478.2" y2="305.1" stroke="#1c1c1c" stroke-width="0.8" stroke-linecap="butt"/>
<line x1="476.2" y1="299.7" x2="480.2" y2="299.7" stroke="#1c1c1c" stroke-width="0.8" stroke-linecap="butt"/>
<rect x="475" y="305.1" width="6.4" height="66.8" fill="#fff" stroke="#000" stroke-width="1.0"/>
<line x1="487.5" y1="309.7" x2="487.5" y2="317.2" stroke="#1c1c1c" stroke-width="0.8" stroke-linecap="butt"/>
<line x1="485.5" y1="309.7" x2="489.5" y2="309.7" stroke="#1c1c1c" stroke-width="0.8" stroke-linecap="butt"/>
<clipPath id="c22"><rect x="484.3" y="317.2" width="6.4" height="54.7"/></clipPath>
<rect x="484.3" y="317.2" width="6.4" height="54.7" fill="#fff"/>
<path d="M483.3 379.45L491.7 386.5M483.3 372.65L491.7 379.7M483.3 365.85L491.7 372.9M483.3 359.05L491.7 366.1M483.3 352.25L491.7 359.3M483.3 345.45L491.7 352.5M483.3 338.65L491.7 345.7M483.3 331.85L491.7 338.9M483.3 325.05L491.7 332.1M483.3 318.25L491.7 325.3M483.3 311.45L491.7 318.5M483.3 304.65L491.7 311.7M483.3 297.85L491.7 304.9" stroke="#000" stroke-width="3.13" fill="none" clip-path="url(#c22)"/>
<rect x="484.3" y="317.2" width="6.4" height="54.7" fill="none" stroke="#000" stroke-width="1.0"/>
<line x1="496.8" y1="318" x2="496.8" y2="323.7" stroke="#1c1c1c" stroke-width="0.8" stroke-linecap="butt"/>
<line x1="494.8" y1="318" x2="498.8" y2="318" stroke="#1c1c1c" stroke-width="0.8" stroke-linecap="butt"/>
<rect x="493.6" y="323.7" width="6.4" height="48.2" fill="#000" stroke="#000" stroke-width="1.0"/>
<text x="482.6" y="278.7" font-size="8.5" text-anchor="middle" font-weight="bold" fill="#000">Glucose</text>
<text x="32.4" y="332.5" font-size="8.6" text-anchor="middle" transform="rotate(-90 32.4 332.5)" fill="#1c1c1c">Metabolite level</text>
<text x="40.7" y="333" font-size="7.75" text-anchor="middle" transform="rotate(-90 40.7 333)" fill="#1c1c1c">(nmol/10<tspan font-size="70%" dy="-2.2">6</tspan><tspan dy="2.2"> cells)</tspan></text>
<rect x="88" y="377.6" width="393.5" height="12" fill="#fff" stroke="#333" stroke-width="0.8"/>
<clipPath id="c23"><rect x="100" y="380.1" width="6.5" height="6.5"/></clipPath>
<rect x="100" y="380.1" width="6.5" height="6.5" fill="#fff"/>
<path d="M99 401.2L107.5 394.56M99 394.4L107.5 387.76M99 387.6L107.5 380.96M99 380.8L107.5 374.16M99 374L107.5 367.36M99 367.2L107.5 360.56" stroke="#000" stroke-width="2.79" fill="none" clip-path="url(#c23)"/>
<rect x="100" y="380.1" width="6.5" height="6.5" fill="none" stroke="#000" stroke-width="0.9"/>
<text x="111" y="386.2" font-size="6.85" fill="#1c1c1c">HCC1806 (DMSO)</text>
<rect x="191.8" y="380.1" width="6.5" height="6.5" fill="#fff" stroke="#000" stroke-width="0.9"/>
<text x="203.2" y="386.2" font-size="6.85" fill="#1c1c1c">HCC1806 (1 µmol/L CB-839)</text>
<clipPath id="c24"><rect x="303.2" y="380.1" width="6.5" height="6.5"/></clipPath>
<rect x="303.2" y="380.1" width="6.5" height="6.5" fill="#fff"/>
<path d="M302.2 394.07L310.7 401.2M302.2 387.27L310.7 394.4M302.2 380.47L310.7 387.6M302.2 373.67L310.7 380.8M302.2 366.87L310.7 374M302.2 360.07L310.7 367.2" stroke="#000" stroke-width="3.13" fill="none" clip-path="url(#c24)"/>
<rect x="303.2" y="380.1" width="6.5" height="6.5" fill="none" stroke="#000" stroke-width="0.9"/>
<text x="318" y="386.2" font-size="6.85" fill="#1c1c1c">T47D (DMSO)</text>
<rect x="381.3" y="380.1" width="6.7" height="6.5" fill="#000" stroke="#000" stroke-width="0.9"/>
<text x="395.4" y="386.2" font-size="6.85" fill="#1c1c1c">T47D (1 µmol/L CB-839)</text>
<line x1="59.3" y1="422.5" x2="59.3" y2="509.7" stroke="#1c1c1c" stroke-width="1.0" stroke-linecap="butt"/>
<line x1="55.3" y1="509.2" x2="59.8" y2="509.2" stroke="#1c1c1c" stroke-width="0.95" stroke-linecap="butt"/>
<text x="53.5" y="511.58" font-size="6.6" text-anchor="end" fill="#1c1c1c">0</text>
<line x1="55.3" y1="494.83" x2="59.8" y2="494.83" stroke="#1c1c1c" stroke-width="0.95" stroke-linecap="butt"/>
<text x="53.5" y="497.21" font-size="6.6" text-anchor="end" fill="#1c1c1c">20</text>
<line x1="55.3" y1="480.47" x2="59.8" y2="480.47" stroke="#1c1c1c" stroke-width="0.95" stroke-linecap="butt"/>
<text x="53.5" y="482.84" font-size="6.6" text-anchor="end" fill="#1c1c1c">40</text>
<line x1="55.3" y1="466.1" x2="59.8" y2="466.1" stroke="#1c1c1c" stroke-width="0.95" stroke-linecap="butt"/>
<text x="53.5" y="468.48" font-size="6.6" text-anchor="end" fill="#1c1c1c">60</text>
<line x1="55.3" y1="451.73" x2="59.8" y2="451.73" stroke="#1c1c1c" stroke-width="0.95" stroke-linecap="butt"/>
<text x="53.5" y="454.11" font-size="6.6" text-anchor="end" fill="#1c1c1c">80</text>
<line x1="55.3" y1="437.37" x2="59.8" y2="437.37" stroke="#1c1c1c" stroke-width="0.95" stroke-linecap="butt"/>
<text x="53.5" y="439.74" font-size="6.6" text-anchor="end" fill="#1c1c1c">100</text>
<line x1="55.3" y1="423" x2="59.8" y2="423" stroke="#1c1c1c" stroke-width="0.95" stroke-linecap="butt"/>
<text x="53.5" y="425.38" font-size="6.6" text-anchor="end" fill="#1c1c1c">120</text>
<line x1="59.3" y1="509.2" x2="163.3" y2="509.2" stroke="#1c1c1c" stroke-width="0.9" stroke-linecap="butt"/>
<line x1="69.7" y1="462.5" x2="69.7" y2="463" stroke="#1c1c1c" stroke-width="0.8" stroke-linecap="butt"/>
<line x1="67.7" y1="462.5" x2="71.7" y2="462.5" stroke="#1c1c1c" stroke-width="0.8" stroke-linecap="butt"/>
<clipPath id="c25"><rect x="64.05" y="463" width="11.3" height="46.2"/></clipPath>
<rect x="64.05" y="463" width="11.3" height="46.2" fill="#fff"/>
<path d="M63.05 523.8L76.35 514.49M63.05 517L76.35 507.69M63.05 510.2L76.35 500.89M63.05 503.4L76.35 494.09M63.05 496.6L76.35 487.29M63.05 489.8L76.35 480.49M63.05 483L76.35 473.69M63.05 476.2L76.35 466.89M63.05 469.4L76.35 460.09M63.05 462.6L76.35 453.29M63.05 455.8L76.35 446.49M63.05 449L76.35 439.69" stroke="#000" stroke-width="2.9" fill="none" clip-path="url(#c25)"/>
<rect x="64.05" y="463" width="11.3" height="46.2" fill="none" stroke="#000" stroke-width="1.0"/>
<line x1="83.9" y1="478" x2="83.9" y2="480.1" stroke="#1c1c1c" stroke-width="0.8" stroke-linecap="butt"/>
<line x1="81.9" y1="478" x2="85.9" y2="478" stroke="#1c1c1c" stroke-width="0.8" stroke-linecap="butt"/>
<rect x="78.25" y="480.1" width="11.3" height="29.1" fill="#fff" stroke="#000" stroke-width="1.0"/>
<line x1="104.2" y1="484.9" x2="104.2" y2="485.4" stroke="#1c1c1c" stroke-width="0.8" stroke-linecap="butt"/>
<line x1="102.2" y1="484.9" x2="106.2" y2="484.9" stroke="#1c1c1c" stroke-width="0.8" stroke-linecap="butt"/>
<clipPath id="c26"><rect x="98.55" y="485.4" width="11.3" height="23.8"/></clipPath>
<rect x="98.55" y="485.4" width="11.3" height="23.8" fill="#fff"/>
<path d="M97.55 523.8L110.85 514.49M97.55 517L110.85 507.69M97.55 510.2L110.85 500.89M97.55 503.4L110.85 494.09M97.55 496.6L110.85 487.29M97.55 489.8L110.85 480.49M97.55 483L110.85 473.69M97.55 476.2L110.85 466.89M97.55 469.4L110.85 460.09" stroke="#000" stroke-width="2.9" fill="none" clip-path="url(#c26)"/>
<rect x="98.55" y="485.4" width="11.3" height="23.8" fill="none" stroke="#000" stroke-width="1.0"/>
<line x1="118" y1="487" x2="118" y2="488.5" stroke="#1c1c1c" stroke-width="0.8" stroke-linecap="butt"/>
<line x1="116" y1="487" x2="120" y2="487" stroke="#1c1c1c" stroke-width="0.8" stroke-linecap="butt"/>
<rect x="112.35" y="488.5" width="11.3" height="20.7" fill="#fff" stroke="#000" stroke-width="1.0"/>
<line x1="138.4" y1="448.3" x2="138.4" y2="448.8" stroke="#1c1c1c" stroke-width="0.8" stroke-linecap="butt"/>
<line x1="136.4" y1="448.3" x2="140.4" y2="448.3" stroke="#1c1c1c" stroke-width="0.8" stroke-linecap="butt"/>
<clipPath id="c27"><rect x="132.75" y="448.8" width="11.3" height="60.4"/></clipPath>
<rect x="132.75" y="448.8" width="11.3" height="60.4" fill="#fff"/>
<path d="M131.75 523.8L145.05 514.49M131.75 517L145.05 507.69M131.75 510.2L145.05 500.89M131.75 503.4L145.05 494.09M131.75 496.6L145.05 487.29M131.75 489.8L145.05 480.49M131.75 483L145.05 473.69M131.75 476.2L145.05 466.89M131.75 469.4L145.05 460.09M131.75 462.6L145.05 453.29M131.75 455.8L145.05 446.49M131.75 449L145.05 439.69M131.75 442.2L145.05 432.89M131.75 435.4L145.05 426.09" stroke="#000" stroke-width="2.9" fill="none" clip-path="url(#c27)"/>
<rect x="132.75" y="448.8" width="11.3" height="60.4" fill="none" stroke="#000" stroke-width="1.0"/>
<line x1="152.4" y1="464.9" x2="152.4" y2="466.5" stroke="#1c1c1c" stroke-width="0.8" stroke-linecap="butt"/>
<line x1="150.4" y1="464.9" x2="154.4" y2="464.9" stroke="#1c1c1c" stroke-width="0.8" stroke-linecap="butt"/>
<rect x="146.75" y="466.5" width="11.3" height="42.7" fill="#fff" stroke="#000" stroke-width="1.0"/>
<path d="M70.8 456.6V453H83V456.6" fill="none" stroke="#1c1c1c" stroke-width="1.1" />
<text x="76.9" y="451.2" font-size="9" text-anchor="middle" font-weight="bold" fill="#000">****</text>
<path d="M139 443.3V439.7H151.4V443.3" fill="none" stroke="#1c1c1c" stroke-width="1.1" />
<text x="145.2" y="437.4" font-size="9" text-anchor="middle" font-weight="bold" fill="#000">***</text>
<text x="76.9" y="522.2" font-size="8.45" text-anchor="middle" fill="#1c1c1c">Glc+Gln</text>
<text x="111" y="522.2" font-size="8.45" text-anchor="middle" fill="#1c1c1c">Glc</text>
<text x="145.3" y="522.2" font-size="8.45" text-anchor="middle" fill="#1c1c1c">Gln</text>
<clipPath id="c28"><rect x="64" y="423.2" width="6.6" height="6.4"/></clipPath>
<rect x="64" y="423.2" width="6.6" height="6.4" fill="#fff"/>
<path d="M63 444.2L71.6 438.18M63 437.4L71.6 431.38M63 430.6L71.6 424.58M63 423.8L71.6 417.78M63 417L71.6 410.98" stroke="#000" stroke-width="2.9" fill="none" clip-path="url(#c28)"/>
<rect x="64" y="423.2" width="6.6" height="6.4" fill="none" stroke="#000" stroke-width="0.9"/>
<text x="73.2" y="429" font-size="6.7" fill="#1c1c1c">DMSO</text>
<rect x="106.8" y="423.2" width="6.4" height="6.4" fill="#fff" stroke="#000" stroke-width="0.9"/>
<text x="115.6" y="429" font-size="6.7" fill="#1c1c1c">1 µmol/L CB-839</text>
<text x="106.8" y="414.8" font-size="8.5" text-anchor="middle" font-weight="bold" fill="#000">HCC1806</text>
<text x="26.6" y="466.5" font-size="8.6" text-anchor="middle" transform="rotate(-90 26.6 466.5)" fill="#1c1c1c">OCR<tspan font-size="72%" dy="1.7">OLG</tspan></text>
<text x="35.6" y="466.5" font-size="7.75" text-anchor="middle" transform="rotate(-90 35.6 466.5)" fill="#1c1c1c">(pmol/min)</text>
<line x1="189.8" y1="422.5" x2="189.8" y2="509.7" stroke="#1c1c1c" stroke-width="1.0" stroke-linecap="butt"/>
<line x1="185.8" y1="509.2" x2="190.3" y2="509.2" stroke="#1c1c1c" stroke-width="0.95" stroke-linecap="butt"/>
<text x="184" y="511.65" font-size="6.8" text-anchor="end" fill="#1c1c1c">0</text>
<line x1="185.8" y1="496.89" x2="190.3" y2="496.89" stroke="#1c1c1c" stroke-width="0.95" stroke-linecap="butt"/>
<text x="184" y="499.33" font-size="6.8" text-anchor="end" fill="#1c1c1c">5</text>
<line x1="185.8" y1="484.57" x2="190.3" y2="484.57" stroke="#1c1c1c" stroke-width="0.95" stroke-linecap="butt"/>
<text x="184" y="487.02" font-size="6.8" text-anchor="end" fill="#1c1c1c">10</text>
<line x1="185.8" y1="472.26" x2="190.3" y2="472.26" stroke="#1c1c1c" stroke-width="0.95" stroke-linecap="butt"/>
<text x="184" y="474.71" font-size="6.8" text-anchor="end" fill="#1c1c1c">15</text>
<line x1="185.8" y1="459.94" x2="190.3" y2="459.94" stroke="#1c1c1c" stroke-width="0.95" stroke-linecap="butt"/>
<text x="184" y="462.39" font-size="6.8" text-anchor="end" fill="#1c1c1c">20</text>
<line x1="185.8" y1="447.63" x2="190.3" y2="447.63" stroke="#1c1c1c" stroke-width="0.95" stroke-linecap="butt"/>
<text x="184" y="450.08" font-size="6.8" text-anchor="end" fill="#1c1c1c">25</text>
<line x1="185.8" y1="435.31" x2="190.3" y2="435.31" stroke="#1c1c1c" stroke-width="0.95" stroke-linecap="butt"/>
<text x="184" y="437.76" font-size="6.8" text-anchor="end" fill="#1c1c1c">30</text>
<line x1="185.8" y1="423" x2="190.3" y2="423" stroke="#1c1c1c" stroke-width="0.95" stroke-linecap="butt"/>
<text x="184" y="425.45" font-size="6.8" text-anchor="end" fill="#1c1c1c">35</text>
<line x1="189.8" y1="509.2" x2="292.5" y2="509.2" stroke="#1c1c1c" stroke-width="0.9" stroke-linecap="butt"/>
<line x1="199.6" y1="458" x2="199.6" y2="458.4" stroke="#1c1c1c" stroke-width="0.8" stroke-linecap="butt"/>
<line x1="197.6" y1="458" x2="201.6" y2="458" stroke="#1c1c1c" stroke-width="0.8" stroke-linecap="butt"/>
<clipPath id="c29"><rect x="194.2" y="458.4" width="10.8" height="50.8"/></clipPath>
<rect x="194.2" y="458.4" width="10.8" height="50.8" fill="#fff"/>
<path d="M193.2 514.15L206 523.8M193.2 507.35L206 517M193.2 500.55L206 510.2M193.2 493.75L206 503.4M193.2 486.95L206 496.6M193.2 480.15L206 489.8M193.2 473.35L206 483M193.2 466.55L206 476.2M193.2 459.75L206 469.4M193.2 452.95L206 462.6M193.2 446.15L206 455.8M193.2 439.35L206 449M193.2 432.55L206 442.2" stroke="#000" stroke-width="3.26" fill="none" clip-path="url(#c29)"/>
<rect x="194.2" y="458.4" width="10.8" height="50.8" fill="none" stroke="#000" stroke-width="1.0"/>
<line x1="213.6" y1="465.5" x2="213.6" y2="466.4" stroke="#1c1c1c" stroke-width="0.8" stroke-linecap="butt"/>
<line x1="211.6" y1="465.5" x2="215.6" y2="465.5" stroke="#1c1c1c" stroke-width="0.8" stroke-linecap="butt"/>
<rect x="208.2" y="466.4" width="10.8" height="42.8" fill="#000" stroke="#000" stroke-width="1.0"/>
<line x1="233.8" y1="458.7" x2="233.8" y2="461.2" stroke="#1c1c1c" stroke-width="0.8" stroke-linecap="butt"/>
<line x1="231.8" y1="458.7" x2="235.8" y2="458.7" stroke="#1c1c1c" stroke-width="0.8" stroke-linecap="butt"/>
<clipPath id="c30"><rect x="228.4" y="461.2" width="10.8" height="48"/></clipPath>
<rect x="228.4" y="461.2" width="10.8" height="48" fill="#fff"/>
<path d="M227.4 514.15L240.2 523.8M227.4 507.35L240.2 517M227.4 500.55L240.2 510.2M227.4 493.75L240.2 503.4M227.4 486.95L240.2 496.6M227.4 480.15L240.2 489.8M227.4 473.35L240.2 483M227.4 466.55L240.2 476.2M227.4 459.75L240.2 469.4M227.4 452.95L240.2 462.6M227.4 446.15L240.2 455.8M227.4 439.35L240.2 449" stroke="#000" stroke-width="3.26" fill="none" clip-path="url(#c30)"/>
<rect x="228.4" y="461.2" width="10.8" height="48" fill="none" stroke="#000" stroke-width="1.0"/>
<line x1="247.7" y1="466.4" x2="247.7" y2="472.5" stroke="#1c1c1c" stroke-width="0.8" stroke-linecap="butt"/>
<line x1="245.7" y1="466.4" x2="249.7" y2="466.4" stroke="#1c1c1c" stroke-width="0.8" stroke-linecap="butt"/>
<rect x="242.3" y="472.5" width="10.8" height="36.7" fill="#000" stroke="#000" stroke-width="1.0"/>
<line x1="268.2" y1="446.7" x2="268.2" y2="448.5" stroke="#1c1c1c" stroke-width="0.8" stroke-linecap="butt"/>
<line x1="266.2" y1="446.7" x2="270.2" y2="446.7" stroke="#1c1c1c" stroke-width="0.8" stroke-linecap="butt"/>
<clipPath id="c31"><rect x="262.8" y="448.5" width="10.8" height="60.7"/></clipPath>
<rect x="262.8" y="448.5" width="10.8" height="60.7" fill="#fff"/>
<path d="M261.8 514.15L274.6 523.8M261.8 507.35L274.6 517M261.8 500.55L274.6 510.2M261.8 493.75L274.6 503.4M261.8 486.95L274.6 496.6M261.8 480.15L274.6 489.8M261.8 473.35L274.6 483M261.8 466.55L274.6 476.2M261.8 459.75L274.6 469.4M261.8 452.95L274.6 462.6M261.8 446.15L274.6 455.8M261.8 439.35L274.6 449M261.8 432.55L274.6 442.2M261.8 425.75L274.6 435.4" stroke="#000" stroke-width="3.26" fill="none" clip-path="url(#c31)"/>
<rect x="262.8" y="448.5" width="10.8" height="60.7" fill="none" stroke="#000" stroke-width="1.0"/>
<line x1="282.2" y1="457.8" x2="282.2" y2="459.6" stroke="#1c1c1c" stroke-width="0.8" stroke-linecap="butt"/>
<line x1="280.2" y1="457.8" x2="284.2" y2="457.8" stroke="#1c1c1c" stroke-width="0.8" stroke-linecap="butt"/>
<rect x="276.8" y="459.6" width="10.8" height="49.6" fill="#000" stroke="#000" stroke-width="1.0"/>
<path d="M199.7 453.4V449.8H212.6V453.4" fill="none" stroke="#1c1c1c" stroke-width="1.1" />
<text x="206.15" y="448.1" font-size="9" text-anchor="middle" font-weight="bold" fill="#000">**</text>
<path d="M268.6 443.2V439.6H281.5V443.2" fill="none" stroke="#1c1c1c" stroke-width="1.1" />
<text x="275.05" y="437.9" font-size="9" text-anchor="middle" font-weight="bold" fill="#000">*</text>
<text x="206.5" y="522.2" font-size="8.45" text-anchor="middle" fill="#1c1c1c">Glc+Gln</text>
<text x="241" y="522.2" font-size="8.45" text-anchor="middle" fill="#1c1c1c">Glc</text>
<text x="274.8" y="522.2" font-size="8.45" text-anchor="middle" fill="#1c1c1c">Gln</text>
<clipPath id="c32"><rect x="193.6" y="423.2" width="7.6" height="6.4"/></clipPath>
<rect x="193.6" y="423.2" width="7.6" height="6.4" fill="#fff"/>
<path d="M192.6 436.97L202.2 444.2M192.6 430.17L202.2 437.4M192.6 423.37L202.2 430.6M192.6 416.57L202.2 423.8M192.6 409.77L202.2 417M192.6 402.97L202.2 410.2" stroke="#000" stroke-width="3.26" fill="none" clip-path="url(#c32)"/>
<rect x="193.6" y="423.2" width="7.6" height="6.4" fill="none" stroke="#000" stroke-width="0.9"/>
<text x="203.7" y="429" font-size="6.7" fill="#1c1c1c">DMSO</text>
<rect x="240.6" y="423.2" width="8" height="6.4" fill="#000" stroke="#000" stroke-width="0.9"/>
<text x="251" y="429" font-size="6.7" fill="#1c1c1c">1 µmol/L CB-839</text>
<text x="237" y="414.8" font-size="8.5" text-anchor="middle" font-weight="bold" fill="#000">T47D</text>
<line x1="348.5" y1="422.1" x2="348.5" y2="504.9" stroke="#1c1c1c" stroke-width="1.0" stroke-linecap="butt"/>
<line x1="344.5" y1="496.5" x2="349" y2="496.5" stroke="#1c1c1c" stroke-width="0.95" stroke-linecap="butt"/>
<text x="342.7" y="498.77" font-size="6.3" text-anchor="end" fill="#1c1c1c">60</text>
<line x1="344.5" y1="480.32" x2="349" y2="480.32" stroke="#1c1c1c" stroke-width="0.95" stroke-linecap="butt"/>
<text x="342.7" y="482.59" font-size="6.3" text-anchor="end" fill="#1c1c1c">70</text>
<line x1="344.5" y1="464.15" x2="349" y2="464.15" stroke="#1c1c1c" stroke-width="0.95" stroke-linecap="butt"/>
<text x="342.7" y="466.42" font-size="6.3" text-anchor="end" fill="#1c1c1c">80</text>
<line x1="344.5" y1="447.97" x2="349" y2="447.97" stroke="#1c1c1c" stroke-width="0.95" stroke-linecap="butt"/>
<text x="342.7" y="450.24" font-size="6.3" text-anchor="end" fill="#1c1c1c">90</text>
<line x1="344.5" y1="431.8" x2="349" y2="431.8" stroke="#1c1c1c" stroke-width="0.95" stroke-linecap="butt"/>
<text x="342.7" y="434.07" font-size="6.3" text-anchor="end" fill="#1c1c1c">100</text>
<line x1="348.5" y1="504.4" x2="470.75" y2="504.4" stroke="#1c1c1c" stroke-width="1.0" stroke-linecap="butt"/>
<line x1="348.5" y1="503.95" x2="348.5" y2="507.7" stroke="#1c1c1c" stroke-width="0.95" stroke-linecap="butt"/>
<line x1="360.72" y1="504.4" x2="360.72" y2="506.6" stroke="#1c1c1c" stroke-width="0.95" stroke-linecap="butt"/>
<line x1="367.87" y1="504.4" x2="367.87" y2="506.6" stroke="#1c1c1c" stroke-width="0.95" stroke-linecap="butt"/>
<line x1="372.94" y1="504.4" x2="372.94" y2="506.6" stroke="#1c1c1c" stroke-width="0.95" stroke-linecap="butt"/>
<line x1="376.88" y1="504.4" x2="376.88" y2="506.6" stroke="#1c1c1c" stroke-width="0.95" stroke-linecap="butt"/>
<line x1="380.09" y1="504.4" x2="380.09" y2="506.6" stroke="#1c1c1c" stroke-width="0.95" stroke-linecap="butt"/>
<line x1="382.81" y1="504.4" x2="382.81" y2="506.6" stroke="#1c1c1c" stroke-width="0.95" stroke-linecap="butt"/>
<line x1="385.17" y1="504.4" x2="385.17" y2="506.6" stroke="#1c1c1c" stroke-width="0.95" stroke-linecap="butt"/>
<line x1="387.24" y1="504.4" x2="387.24" y2="506.6" stroke="#1c1c1c" stroke-width="0.95" stroke-linecap="butt"/>
<line x1="389.1" y1="503.95" x2="389.1" y2="507.7" stroke="#1c1c1c" stroke-width="0.95" stroke-linecap="butt"/>
<line x1="401.32" y1="504.4" x2="401.32" y2="506.6" stroke="#1c1c1c" stroke-width="0.95" stroke-linecap="butt"/>
<line x1="408.47" y1="504.4" x2="408.47" y2="506.6" stroke="#1c1c1c" stroke-width="0.95" stroke-linecap="butt"/>
<line x1="413.54" y1="504.4" x2="413.54" y2="506.6" stroke="#1c1c1c" stroke-width="0.95" stroke-linecap="butt"/>
<line x1="417.48" y1="504.4" x2="417.48" y2="506.6" stroke="#1c1c1c" stroke-width="0.95" stroke-linecap="butt"/>
<line x1="420.69" y1="504.4" x2="420.69" y2="506.6" stroke="#1c1c1c" stroke-width="0.95" stroke-linecap="butt"/>
<line x1="423.41" y1="504.4" x2="423.41" y2="506.6" stroke="#1c1c1c" stroke-width="0.95" stroke-linecap="butt"/>
<line x1="425.77" y1="504.4" x2="425.77" y2="506.6" stroke="#1c1c1c" stroke-width="0.95" stroke-linecap="butt"/>
<line x1="427.84" y1="504.4" x2="427.84" y2="506.6" stroke="#1c1c1c" stroke-width="0.95" stroke-linecap="butt"/>
<line x1="429.7" y1="503.95" x2="429.7" y2="507.7" stroke="#1c1c1c" stroke-width="0.95" stroke-linecap="butt"/>
<line x1="441.92" y1="504.4" x2="441.92" y2="506.6" stroke="#1c1c1c" stroke-width="0.95" stroke-linecap="butt"/>
<line x1="449.07" y1="504.4" x2="449.07" y2="506.6" stroke="#1c1c1c" stroke-width="0.95" stroke-linecap="butt"/>
<line x1="454.14" y1="504.4" x2="454.14" y2="506.6" stroke="#1c1c1c" stroke-width="0.95" stroke-linecap="butt"/>
<line x1="458.08" y1="504.4" x2="458.08" y2="506.6" stroke="#1c1c1c" stroke-width="0.95" stroke-linecap="butt"/>
<line x1="461.29" y1="504.4" x2="461.29" y2="506.6" stroke="#1c1c1c" stroke-width="0.95" stroke-linecap="butt"/>
<line x1="464.01" y1="504.4" x2="464.01" y2="506.6" stroke="#1c1c1c" stroke-width="0.95" stroke-linecap="butt"/>
<line x1="466.37" y1="504.4" x2="466.37" y2="506.6" stroke="#1c1c1c" stroke-width="0.95" stroke-linecap="butt"/>
<line x1="468.44" y1="504.4" x2="468.44" y2="506.6" stroke="#1c1c1c" stroke-width="0.95" stroke-linecap="butt"/>
<line x1="470.3" y1="503.95" x2="470.3" y2="507.7" stroke="#1c1c1c" stroke-width="0.95" stroke-linecap="butt"/>
<text x="348.5" y="516" font-size="6.3" text-anchor="middle" fill="#1c1c1c">1</text>
<text x="389.1" y="516" font-size="6.3" text-anchor="middle" fill="#1c1c1c">10</text>
<text x="429.7" y="516" font-size="6.3" text-anchor="middle" fill="#1c1c1c">100</text>
<text x="470.3" y="516" font-size="6.3" text-anchor="middle" fill="#1c1c1c">1,000</text>
<path d="M354.07 436.86L355.53 436.88L356.98 436.89L358.43 436.91L359.88 436.93L361.34 436.94L362.79 436.96L364.24 436.98L365.7 437.01L367.15 437.03L368.6 437.06L370.05 437.08L371.51 437.11L372.96 437.14L374.41 437.18L375.87 437.21L377.32 437.25L378.77 437.29L380.22 437.33L381.68 437.38L383.13 437.42L384.58 437.47L386.04 437.53L387.49 437.59L388.94 437.65L390.39 437.71L391.85 437.78L393.3 437.86L394.75 437.93L396.21 438.02L397.66 438.1L399.11 438.2L400.56 438.3L402.02 438.4L403.47 438.51L404.92 438.63L406.38 438.75L407.83 438.89L409.28 439.03L410.73 439.17L412.19 439.33L413.64 439.49L415.09 439.66L416.55 439.84L418 440.03L419.45 440.24L420.9 440.45L422.36 440.67L423.81 440.9L425.26 441.14L426.71 441.39L428.17 441.66L429.62 441.93L431.07 442.22L432.53 442.52L433.98 442.83L435.43 443.15L436.88 443.48L438.34 443.83L439.79 444.18L441.24 444.55L442.7 444.92L444.15 445.31L445.6 445.7L447.05 446.11L448.51 446.52L449.96 446.94L451.41 447.37L452.87 447.8L454.32 448.24L455.77 448.69L457.22 449.14L458.68 449.59L460.13 450.04L461.58 450.49L463.04 450.94L464.49 451.4L465.94 451.85L467.39 452.29L468.85 452.73L470.3 453.17" fill="none" stroke="#1c1c1c" stroke-width="1.0" stroke-dasharray="2 1.6" stroke-linejoin="round"/>
<path d="M354.07 437.29L355.53 437.52L356.98 437.76L358.43 438.02L359.88 438.29L361.34 438.59L362.79 438.92L364.24 439.26L365.7 439.63L367.15 440.03L368.6 440.45L370.05 440.9L371.51 441.38L372.96 441.9L374.41 442.44L375.87 443.02L377.32 443.64L378.77 444.29L380.22 444.97L381.68 445.7L383.13 446.46L384.58 447.27L386.04 448.11L387.49 448.98L388.94 449.9L390.39 450.85L391.85 451.84L393.3 452.86L394.75 453.91L396.21 455L397.66 456.11L399.11 457.25L400.56 458.4L402.02 459.58L403.47 460.77L404.92 461.97L406.38 463.18L407.83 464.38L409.28 465.59L410.73 466.79L412.19 467.99L413.64 469.17L415.09 470.33L416.55 471.47L418 472.58L419.45 473.67L420.9 474.73L422.36 475.76L423.81 476.76L425.26 477.72L426.71 478.64L428.17 479.53L429.62 480.38L431.07 481.19L432.53 481.96L433.98 482.69L435.43 483.39L436.88 484.04L438.34 484.67L439.79 485.25L441.24 485.81L442.7 486.33L444.15 486.82L445.6 487.27L447.05 487.7L448.51 488.1L449.96 488.48L451.41 488.83L452.87 489.16L454.32 489.46L455.77 489.74L457.22 490.01L458.68 490.25L460.13 490.48L461.58 490.69L463.04 490.88L464.49 491.06L465.94 491.23L467.39 491.39L468.85 491.53L470.3 491.67" fill="none" stroke="#1c1c1c" stroke-width="1.0" stroke-linejoin="round"/>
<line x1="354.07" y1="432.45" x2="354.07" y2="448.3" stroke="#1c1c1c" stroke-width="0.9" stroke-linecap="butt"/>
<line x1="351.77" y1="432.45" x2="356.37" y2="432.45" stroke="#1c1c1c" stroke-width="0.9" stroke-linecap="butt"/>
<line x1="351.77" y1="448.3" x2="356.37" y2="448.3" stroke="#1c1c1c" stroke-width="0.9" stroke-linecap="butt"/>
<path d="M354.07 437.14L356.82 439.89L354.07 442.64L351.32 439.89Z" fill="#000" stroke="#000" stroke-width="0.3"/>
<line x1="373.44" y1="430.99" x2="373.44" y2="450.56" stroke="#1c1c1c" stroke-width="0.9" stroke-linecap="butt"/>
<line x1="371.14" y1="430.99" x2="375.74" y2="430.99" stroke="#1c1c1c" stroke-width="0.9" stroke-linecap="butt"/>
<line x1="371.14" y1="450.56" x2="375.74" y2="450.56" stroke="#1c1c1c" stroke-width="0.9" stroke-linecap="butt"/>
<path d="M373.44 438.75L376.19 441.5L373.44 444.25L370.69 441.5Z" fill="#000" stroke="#000" stroke-width="0.3"/>
<line x1="392.82" y1="431.48" x2="392.82" y2="447.65" stroke="#1c1c1c" stroke-width="0.9" stroke-linecap="butt"/>
<line x1="390.52" y1="431.48" x2="395.12" y2="431.48" stroke="#1c1c1c" stroke-width="0.9" stroke-linecap="butt"/>
<line x1="390.52" y1="447.65" x2="395.12" y2="447.65" stroke="#1c1c1c" stroke-width="0.9" stroke-linecap="butt"/>
<path d="M392.82 436.81L395.57 439.56L392.82 442.31L390.07 439.56Z" fill="#000" stroke="#000" stroke-width="0.3"/>
<line x1="412.19" y1="425.49" x2="412.19" y2="445.23" stroke="#1c1c1c" stroke-width="0.9" stroke-linecap="butt"/>
<line x1="409.89" y1="425.49" x2="414.49" y2="425.49" stroke="#1c1c1c" stroke-width="0.9" stroke-linecap="butt"/>
<line x1="409.89" y1="445.23" x2="414.49" y2="445.23" stroke="#1c1c1c" stroke-width="0.9" stroke-linecap="butt"/>
<path d="M412.19 432.77L414.94 435.52L412.19 438.27L409.44 435.52Z" fill="#000" stroke="#000" stroke-width="0.3"/>
<line x1="431.56" y1="433.42" x2="431.56" y2="446.84" stroke="#1c1c1c" stroke-width="0.9" stroke-linecap="butt"/>
<line x1="429.26" y1="433.42" x2="433.86" y2="433.42" stroke="#1c1c1c" stroke-width="0.9" stroke-linecap="butt"/>
<line x1="429.26" y1="446.84" x2="433.86" y2="446.84" stroke="#1c1c1c" stroke-width="0.9" stroke-linecap="butt"/>
<path d="M431.56 436.65L434.31 439.4L431.56 442.15L428.81 439.4Z" fill="#000" stroke="#000" stroke-width="0.3"/>
<line x1="450.93" y1="444.25" x2="450.93" y2="454.28" stroke="#1c1c1c" stroke-width="0.9" stroke-linecap="butt"/>
<line x1="448.63" y1="444.25" x2="453.23" y2="444.25" stroke="#1c1c1c" stroke-width="0.9" stroke-linecap="butt"/>
<line x1="448.63" y1="454.28" x2="453.23" y2="454.28" stroke="#1c1c1c" stroke-width="0.9" stroke-linecap="butt"/>
<path d="M450.93 446.36L453.68 449.11L450.93 451.86L448.18 449.11Z" fill="#000" stroke="#000" stroke-width="0.3"/>
<line x1="470.3" y1="442.48" x2="470.3" y2="461.08" stroke="#1c1c1c" stroke-width="0.9" stroke-linecap="butt"/>
<line x1="468" y1="442.48" x2="472.6" y2="442.48" stroke="#1c1c1c" stroke-width="0.9" stroke-linecap="butt"/>
<line x1="468" y1="461.08" x2="472.6" y2="461.08" stroke="#1c1c1c" stroke-width="0.9" stroke-linecap="butt"/>
<path d="M470.3 448.78L473.05 451.53L470.3 454.28L467.55 451.53Z" fill="#000" stroke="#000" stroke-width="0.3"/>
<line x1="354.07" y1="430.83" x2="354.07" y2="444.74" stroke="#1c1c1c" stroke-width="0.9" stroke-linecap="butt"/>
<line x1="351.77" y1="430.83" x2="356.37" y2="430.83" stroke="#1c1c1c" stroke-width="0.9" stroke-linecap="butt"/>
<line x1="351.77" y1="444.74" x2="356.37" y2="444.74" stroke="#1c1c1c" stroke-width="0.9" stroke-linecap="butt"/>
<circle cx="354.07" cy="436.65" r="2.2" fill="#fff" stroke="#1c1c1c" stroke-width="1.0"/>
<line x1="373.44" y1="430.51" x2="373.44" y2="446.84" stroke="#1c1c1c" stroke-width="0.9" stroke-linecap="butt"/>
<line x1="371.14" y1="430.51" x2="375.74" y2="430.51" stroke="#1c1c1c" stroke-width="0.9" stroke-linecap="butt"/>
<line x1="371.14" y1="446.84" x2="375.74" y2="446.84" stroke="#1c1c1c" stroke-width="0.9" stroke-linecap="butt"/>
<circle cx="373.44" cy="439.4" r="2.2" fill="#fff" stroke="#1c1c1c" stroke-width="1.0"/>
<line x1="392.82" y1="455.25" x2="392.82" y2="462.21" stroke="#1c1c1c" stroke-width="0.9" stroke-linecap="butt"/>
<line x1="390.52" y1="455.25" x2="395.12" y2="455.25" stroke="#1c1c1c" stroke-width="0.9" stroke-linecap="butt"/>
<line x1="390.52" y1="462.21" x2="395.12" y2="462.21" stroke="#1c1c1c" stroke-width="0.9" stroke-linecap="butt"/>
<circle cx="392.82" cy="458.49" r="2.2" fill="#fff" stroke="#1c1c1c" stroke-width="1.0"/>
<line x1="412.19" y1="456.87" x2="412.19" y2="469.65" stroke="#1c1c1c" stroke-width="0.9" stroke-linecap="butt"/>
<line x1="409.89" y1="456.87" x2="414.49" y2="456.87" stroke="#1c1c1c" stroke-width="0.9" stroke-linecap="butt"/>
<line x1="409.89" y1="469.65" x2="414.49" y2="469.65" stroke="#1c1c1c" stroke-width="0.9" stroke-linecap="butt"/>
<circle cx="412.19" cy="463.5" r="2.2" fill="#fff" stroke="#1c1c1c" stroke-width="1.0"/>
<line x1="431.56" y1="476.12" x2="431.56" y2="488.25" stroke="#1c1c1c" stroke-width="0.9" stroke-linecap="butt"/>
<line x1="429.26" y1="476.12" x2="433.86" y2="476.12" stroke="#1c1c1c" stroke-width="0.9" stroke-linecap="butt"/>
<line x1="429.26" y1="488.25" x2="433.86" y2="488.25" stroke="#1c1c1c" stroke-width="0.9" stroke-linecap="butt"/>
<circle cx="431.56" cy="481.3" r="2.2" fill="#fff" stroke="#1c1c1c" stroke-width="1.0"/>
<line x1="450.93" y1="483.07" x2="450.93" y2="501.84" stroke="#1c1c1c" stroke-width="0.9" stroke-linecap="butt"/>
<line x1="448.63" y1="483.07" x2="453.23" y2="483.07" stroke="#1c1c1c" stroke-width="0.9" stroke-linecap="butt"/>
<line x1="448.63" y1="501.84" x2="453.23" y2="501.84" stroke="#1c1c1c" stroke-width="0.9" stroke-linecap="butt"/>
<circle cx="450.93" cy="491.65" r="2.2" fill="#fff" stroke="#1c1c1c" stroke-width="1.0"/>
<line x1="470.3" y1="484.69" x2="470.3" y2="495.69" stroke="#1c1c1c" stroke-width="0.9" stroke-linecap="butt"/>
<line x1="468" y1="484.69" x2="472.6" y2="484.69" stroke="#1c1c1c" stroke-width="0.9" stroke-linecap="butt"/>
<line x1="468" y1="495.69" x2="472.6" y2="495.69" stroke="#1c1c1c" stroke-width="0.9" stroke-linecap="butt"/>
<circle cx="470.3" cy="490.35" r="2.2" fill="#fff" stroke="#1c1c1c" stroke-width="1.0"/>
<text x="438.2" y="433.8" font-size="6.6" fill="#1c1c1c">IC<tspan font-size="75%" dy="1.2">50</tspan><tspan dy="-1.2"> &gt; 1 µmol/L</tspan></text>
<text x="379.9" y="486.2" font-size="6.6" fill="#1c1c1c">IC<tspan font-size="75%" dy="1.2">50</tspan><tspan dy="-1.2"> = 25 nmol/L</tspan></text>
<text x="374.1" y="493.9" font-size="6.6" fill="#1c1c1c">(95% CI: 9.2–67)</text>
<text x="477.6" y="451.2" font-size="6.6" fill="#1c1c1c">glucose</text>
<text x="477.6" y="460.3" font-size="6.6" fill="#1c1c1c">only</text>
<text x="477.6" y="489.8" font-size="6.6" fill="#1c1c1c">glucose +</text>
<text x="477.6" y="498.6" font-size="6.6" fill="#1c1c1c">glutamine</text>
<text x="410.3" y="414.8" font-size="8.5" text-anchor="middle" font-weight="bold" fill="#000">HCC1806</text>
<text x="415.2" y="529.2" font-size="8.6" text-anchor="middle" fill="#1c1c1c">[CB-839] (nmol/L)</text>
<text x="315" y="465" font-size="8.6" text-anchor="middle" transform="rotate(-90 315 465)" fill="#1c1c1c">OCR<tspan font-size="72%" dy="1.7">OLG</tspan></text>
<text x="323.9" y="465" font-size="7.75" text-anchor="middle" transform="rotate(-90 323.9 465)" fill="#1c1c1c">(% of DMSO control)</text>
</g>
</svg>
</body>
</html>
